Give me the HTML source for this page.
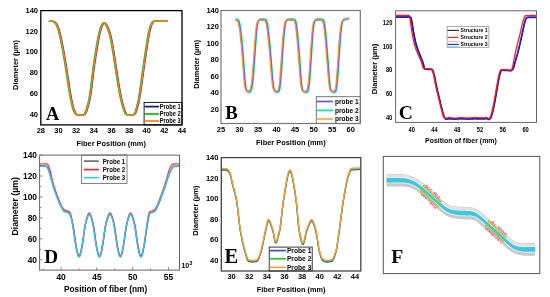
<!DOCTYPE html>
<html><head><meta charset="utf-8"><style>
html,body{margin:0;padding:0;background:#fff;}
svg{display:block;}
</style></head><body>
<svg width="550" height="297" viewBox="0 0 550 297">
<rect width="550" height="297" fill="#fff"/>
<path d="M50.30,21.20 L50.80,21.21 L51.30,21.23 L51.80,21.26 L52.30,21.30 L52.80,21.36 L53.30,21.42 L53.80,21.50 L54.30,21.62 L54.80,21.83 L55.30,22.17 L55.80,22.65 L56.30,23.23 L56.80,23.91 L57.30,24.74 L57.80,25.75 L58.30,26.98 L58.80,28.46 L59.30,30.16 L59.80,31.99 L60.30,33.92 L60.80,35.99 L61.30,38.22 L61.80,40.61 L62.30,43.12 L62.80,45.73 L63.30,48.40 L63.80,51.12 L64.30,53.90 L64.80,56.75 L65.30,59.67 L65.80,62.65 L66.30,65.69 L66.80,68.79 L67.30,71.99 L67.80,75.31 L68.30,78.71 L68.80,82.13 L69.30,85.47 L69.80,88.68 L70.30,91.72 L70.80,94.61 L71.30,97.35 L71.80,99.93 L72.30,102.36 L72.80,104.59 L73.30,106.56 L73.80,108.29 L74.30,109.80 L74.80,111.11 L75.30,112.27 L75.80,113.28 L76.30,114.09 L76.80,114.59 L77.30,114.80 L77.80,114.88 L78.30,114.92 L78.80,114.95 L79.30,114.97 L79.80,114.99 L80.30,115.00 L80.80,115.00 L81.30,114.99 L81.80,114.98 L82.30,114.96 L82.80,114.93 L83.30,114.90 L83.80,114.85 L84.30,114.73 L84.80,114.45 L85.30,113.92 L85.80,113.15 L86.30,112.18 L86.80,110.96 L87.30,109.45 L87.80,107.77 L88.30,106.03 L88.80,104.28 L89.30,102.39 L89.80,100.23 L90.30,97.66 L90.80,94.65 L91.30,91.27 L91.80,87.55 L92.30,83.50 L92.80,79.23 L93.30,74.97 L93.80,70.93 L94.30,67.17 L94.80,63.62 L95.30,60.21 L95.80,56.93 L96.30,53.74 L96.80,50.64 L97.30,47.61 L97.80,44.64 L98.30,41.76 L98.80,39.02 L99.30,36.45 L99.80,34.07 L100.30,31.90 L100.80,29.98 L101.30,28.32 L101.80,26.92 L102.30,25.79 L102.80,24.84 L103.30,24.03 L103.80,23.38 L104.30,22.98 L104.80,22.87 L105.30,23.06 L105.80,23.52 L106.30,24.16 L106.80,24.94 L107.30,25.80 L107.80,26.80 L108.30,27.95 L108.80,29.24 L109.30,30.60 L109.80,32.04 L110.30,33.62 L110.80,35.45 L111.30,37.57 L111.80,39.97 L112.30,42.61 L112.80,45.40 L113.30,48.28 L113.80,51.24 L114.30,54.31 L114.80,57.50 L115.30,60.78 L115.80,64.10 L116.30,67.39 L116.80,70.63 L117.30,73.87 L117.80,77.10 L118.30,80.30 L118.80,83.44 L119.30,86.48 L119.80,89.37 L120.30,92.12 L120.80,94.73 L121.30,97.19 L121.80,99.47 L122.30,101.57 L122.80,103.51 L123.30,105.31 L123.80,106.98 L124.30,108.55 L124.80,110.01 L125.30,111.33 L125.80,112.51 L126.30,113.53 L126.80,114.26 L127.30,114.63 L127.80,114.76 L128.30,114.81 L128.80,114.85 L129.30,114.87 L129.80,114.89 L130.30,114.90 L130.80,114.90 L131.30,114.89 L131.80,114.88 L132.30,114.86 L132.80,114.83 L133.30,114.80 L133.80,114.74 L134.30,114.61 L134.80,114.26 L135.30,113.59 L135.80,112.66 L136.30,111.50 L136.80,110.09 L137.30,108.45 L137.80,106.66 L138.30,104.75 L138.80,102.66 L139.30,100.31 L139.80,97.61 L140.30,94.57 L140.80,91.30 L141.30,87.92 L141.80,84.42 L142.30,80.84 L142.80,77.22 L143.30,73.60 L143.80,70.02 L144.30,66.49 L144.80,62.98 L145.30,59.49 L145.80,56.06 L146.30,52.68 L146.80,49.35 L147.30,46.07 L147.80,42.84 L148.30,39.72 L148.80,36.80 L149.30,34.13 L149.80,31.74 L150.30,29.61 L150.80,27.72 L151.30,26.10 L151.80,24.77 L152.30,23.65 L152.80,22.72 L153.30,22.05 L153.80,21.65 L154.30,21.42 L154.80,21.27 L155.30,21.17 L155.80,21.09 L156.30,21.03 L156.80,20.99 L157.30,20.96 L157.80,20.94 L158.30,20.91 L158.80,20.89 L159.30,20.87 L159.80,20.85 L160.30,20.83 L160.80,20.81 L161.30,20.79 L161.80,20.78 L162.30,20.77 L162.80,20.75 L163.30,20.74 L163.80,20.73 L164.30,20.73 L164.80,20.72 L165.30,20.71 L165.80,20.71 L166.30,20.70 L166.80,20.70 L167.30,20.70 L167.50,20.70" fill="none" stroke="#2a2a9a" stroke-width="1.4" stroke-linejoin="round" stroke-linecap="round" />
<path d="M49.10,21.20 L49.60,21.21 L50.10,21.23 L50.60,21.26 L51.10,21.30 L51.60,21.36 L52.10,21.42 L52.60,21.50 L53.10,21.62 L53.60,21.83 L54.10,22.17 L54.60,22.65 L55.10,23.23 L55.60,23.91 L56.10,24.74 L56.60,25.75 L57.10,26.98 L57.60,28.46 L58.10,30.16 L58.60,31.99 L59.10,33.92 L59.60,35.99 L60.10,38.22 L60.60,40.61 L61.10,43.12 L61.60,45.73 L62.10,48.40 L62.60,51.12 L63.10,53.90 L63.60,56.75 L64.10,59.67 L64.60,62.65 L65.10,65.69 L65.60,68.79 L66.10,71.99 L66.60,75.31 L67.10,78.71 L67.60,82.13 L68.10,85.47 L68.60,88.68 L69.10,91.72 L69.60,94.61 L70.10,97.35 L70.60,99.93 L71.10,102.36 L71.60,104.59 L72.10,106.56 L72.60,108.29 L73.10,109.80 L73.60,111.11 L74.10,112.27 L74.60,113.28 L75.10,114.09 L75.60,114.59 L76.10,114.80 L76.60,114.88 L77.10,114.92 L77.60,114.95 L78.10,114.97 L78.60,114.99 L79.10,115.00 L79.60,115.00 L80.10,114.99 L80.60,114.98 L81.10,114.96 L81.60,114.93 L82.10,114.90 L82.60,114.85 L83.10,114.73 L83.60,114.45 L84.10,113.92 L84.60,113.15 L85.10,112.18 L85.60,110.96 L86.10,109.45 L86.60,107.77 L87.10,106.03 L87.60,104.28 L88.10,102.39 L88.60,100.23 L89.10,97.66 L89.60,94.65 L90.10,91.27 L90.60,87.55 L91.10,83.50 L91.60,79.23 L92.10,74.97 L92.60,70.93 L93.10,67.17 L93.60,63.62 L94.10,60.21 L94.60,56.93 L95.10,53.74 L95.60,50.64 L96.10,47.61 L96.60,44.64 L97.10,41.76 L97.60,39.02 L98.10,36.45 L98.60,34.07 L99.10,31.90 L99.60,29.98 L100.10,28.32 L100.60,26.92 L101.10,25.79 L101.60,24.84 L102.10,24.03 L102.60,23.38 L103.10,22.98 L103.60,22.87 L104.10,23.06 L104.60,23.52 L105.10,24.16 L105.60,24.94 L106.10,25.80 L106.60,26.80 L107.10,27.95 L107.60,29.24 L108.10,30.60 L108.60,32.04 L109.10,33.62 L109.60,35.45 L110.10,37.57 L110.60,39.97 L111.10,42.61 L111.60,45.40 L112.10,48.28 L112.60,51.24 L113.10,54.31 L113.60,57.50 L114.10,60.78 L114.60,64.10 L115.10,67.39 L115.60,70.63 L116.10,73.87 L116.60,77.10 L117.10,80.30 L117.60,83.44 L118.10,86.48 L118.60,89.37 L119.10,92.12 L119.60,94.73 L120.10,97.19 L120.60,99.47 L121.10,101.57 L121.60,103.51 L122.10,105.31 L122.60,106.98 L123.10,108.55 L123.60,110.01 L124.10,111.33 L124.60,112.51 L125.10,113.53 L125.60,114.26 L126.10,114.63 L126.60,114.76 L127.10,114.81 L127.60,114.85 L128.10,114.87 L128.60,114.89 L129.10,114.90 L129.60,114.90 L130.10,114.89 L130.60,114.88 L131.10,114.86 L131.60,114.83 L132.10,114.80 L132.60,114.74 L133.10,114.61 L133.60,114.26 L134.10,113.59 L134.60,112.66 L135.10,111.50 L135.60,110.09 L136.10,108.45 L136.60,106.66 L137.10,104.75 L137.60,102.66 L138.10,100.31 L138.60,97.61 L139.10,94.57 L139.60,91.30 L140.10,87.92 L140.60,84.42 L141.10,80.84 L141.60,77.22 L142.10,73.60 L142.60,70.02 L143.10,66.49 L143.60,62.98 L144.10,59.49 L144.60,56.06 L145.10,52.68 L145.60,49.35 L146.10,46.07 L146.60,42.84 L147.10,39.72 L147.60,36.80 L148.10,34.13 L148.60,31.74 L149.10,29.61 L149.60,27.72 L150.10,26.10 L150.60,24.77 L151.10,23.65 L151.60,22.72 L152.10,22.05 L152.60,21.65 L153.10,21.42 L153.60,21.27 L154.10,21.17 L154.60,21.09 L155.10,21.03 L155.60,20.99 L156.10,20.96 L156.60,20.94 L157.10,20.91 L157.60,20.89 L158.10,20.87 L158.60,20.85 L159.10,20.83 L159.60,20.81 L160.10,20.79 L160.60,20.78 L161.10,20.77 L161.60,20.75 L162.10,20.74 L162.60,20.73 L163.10,20.73 L163.60,20.72 L164.10,20.71 L164.60,20.71 L165.10,20.70 L165.60,20.70 L166.10,20.70 L166.30,20.70" fill="none" stroke="#22b022" stroke-width="1.4" stroke-linejoin="round" stroke-linecap="round" />
<path d="M49.80,21.20 L50.30,21.21 L50.80,21.23 L51.30,21.26 L51.80,21.30 L52.30,21.36 L52.80,21.42 L53.30,21.50 L53.80,21.62 L54.30,21.83 L54.80,22.17 L55.30,22.65 L55.80,23.23 L56.30,23.91 L56.80,24.74 L57.30,25.75 L57.80,26.98 L58.30,28.46 L58.80,30.16 L59.30,31.99 L59.80,33.92 L60.30,35.99 L60.80,38.22 L61.30,40.61 L61.80,43.12 L62.30,45.73 L62.80,48.40 L63.30,51.12 L63.80,53.90 L64.30,56.75 L64.80,59.67 L65.30,62.65 L65.80,65.69 L66.30,68.79 L66.80,71.99 L67.30,75.31 L67.80,78.71 L68.30,82.13 L68.80,85.47 L69.30,88.68 L69.80,91.72 L70.30,94.61 L70.80,97.35 L71.30,99.93 L71.80,102.36 L72.30,104.59 L72.80,106.56 L73.30,108.29 L73.80,109.80 L74.30,111.11 L74.80,112.27 L75.30,113.28 L75.80,114.09 L76.30,114.59 L76.80,114.80 L77.30,114.88 L77.80,114.92 L78.30,114.95 L78.80,114.97 L79.30,114.99 L79.80,115.00 L80.30,115.00 L80.80,114.99 L81.30,114.98 L81.80,114.96 L82.30,114.93 L82.80,114.90 L83.30,114.85 L83.80,114.73 L84.30,114.45 L84.80,113.92 L85.30,113.15 L85.80,112.18 L86.30,110.96 L86.80,109.45 L87.30,107.77 L87.80,106.03 L88.30,104.28 L88.80,102.39 L89.30,100.23 L89.80,97.66 L90.30,94.65 L90.80,91.27 L91.30,87.55 L91.80,83.50 L92.30,79.23 L92.80,74.97 L93.30,70.93 L93.80,67.17 L94.30,63.62 L94.80,60.21 L95.30,56.93 L95.80,53.74 L96.30,50.64 L96.80,47.61 L97.30,44.64 L97.80,41.76 L98.30,39.02 L98.80,36.45 L99.30,34.07 L99.80,31.90 L100.30,29.98 L100.80,28.32 L101.30,26.92 L101.80,25.79 L102.30,24.84 L102.80,24.03 L103.30,23.38 L103.80,22.98 L104.30,22.87 L104.80,23.06 L105.30,23.52 L105.80,24.16 L106.30,24.94 L106.80,25.80 L107.30,26.80 L107.80,27.95 L108.30,29.24 L108.80,30.60 L109.30,32.04 L109.80,33.62 L110.30,35.45 L110.80,37.57 L111.30,39.97 L111.80,42.61 L112.30,45.40 L112.80,48.28 L113.30,51.24 L113.80,54.31 L114.30,57.50 L114.80,60.78 L115.30,64.10 L115.80,67.39 L116.30,70.63 L116.80,73.87 L117.30,77.10 L117.80,80.30 L118.30,83.44 L118.80,86.48 L119.30,89.37 L119.80,92.12 L120.30,94.73 L120.80,97.19 L121.30,99.47 L121.80,101.57 L122.30,103.51 L122.80,105.31 L123.30,106.98 L123.80,108.55 L124.30,110.01 L124.80,111.33 L125.30,112.51 L125.80,113.53 L126.30,114.26 L126.80,114.63 L127.30,114.76 L127.80,114.81 L128.30,114.85 L128.80,114.87 L129.30,114.89 L129.80,114.90 L130.30,114.90 L130.80,114.89 L131.30,114.88 L131.80,114.86 L132.30,114.83 L132.80,114.80 L133.30,114.74 L133.80,114.61 L134.30,114.26 L134.80,113.59 L135.30,112.66 L135.80,111.50 L136.30,110.09 L136.80,108.45 L137.30,106.66 L137.80,104.75 L138.30,102.66 L138.80,100.31 L139.30,97.61 L139.80,94.57 L140.30,91.30 L140.80,87.92 L141.30,84.42 L141.80,80.84 L142.30,77.22 L142.80,73.60 L143.30,70.02 L143.80,66.49 L144.30,62.98 L144.80,59.49 L145.30,56.06 L145.80,52.68 L146.30,49.35 L146.80,46.07 L147.30,42.84 L147.80,39.72 L148.30,36.80 L148.80,34.13 L149.30,31.74 L149.80,29.61 L150.30,27.72 L150.80,26.10 L151.30,24.77 L151.80,23.65 L152.30,22.72 L152.80,22.05 L153.30,21.65 L153.80,21.42 L154.30,21.27 L154.80,21.17 L155.30,21.09 L155.80,21.03 L156.30,20.99 L156.80,20.96 L157.30,20.94 L157.80,20.91 L158.30,20.89 L158.80,20.87 L159.30,20.85 L159.80,20.83 L160.30,20.81 L160.80,20.79 L161.30,20.78 L161.80,20.77 L162.30,20.75 L162.80,20.74 L163.30,20.73 L163.80,20.73 L164.30,20.72 L164.80,20.71 L165.30,20.71 L165.80,20.70 L166.30,20.70 L166.80,20.70 L167.00,20.70" fill="none" stroke="#ff8010" stroke-width="1.4" stroke-linejoin="round" stroke-linecap="round" />
<rect x="144.1" y="102.4" width="37.90" height="22.50" fill="#fff" stroke="#000" stroke-width="0.9"/>
<line x1="144.60" y1="106.60" x2="159.00" y2="106.60" stroke="#1c1c8c" stroke-width="1.8"/>
<text x="159.80" y="108.90" font-family="'Liberation Sans', sans-serif" font-size="6.6" font-weight="bold" text-anchor="start" fill="#000"  textLength="21.0" lengthAdjust="spacingAndGlyphs">Probe 1</text>
<line x1="144.60" y1="114.00" x2="159.00" y2="114.00" stroke="#22bb22" stroke-width="1.8"/>
<text x="159.80" y="116.30" font-family="'Liberation Sans', sans-serif" font-size="6.6" font-weight="bold" text-anchor="start" fill="#000"  textLength="21.0" lengthAdjust="spacingAndGlyphs">Probe 2</text>
<line x1="144.60" y1="121.00" x2="159.00" y2="121.00" stroke="#ff8c1a" stroke-width="1.8"/>
<text x="159.80" y="123.30" font-family="'Liberation Sans', sans-serif" font-size="6.6" font-weight="bold" text-anchor="start" fill="#000"  textLength="21.0" lengthAdjust="spacingAndGlyphs">Probe 3</text>
<rect x="40.8" y="10.6" width="141.20" height="114.30" fill="none" stroke="#000" stroke-width="1.3"/>
<text x="38.00" y="116.60" font-family="'Liberation Sans', sans-serif" font-size="7.5" font-weight="bold" text-anchor="end" fill="#000" >40</text>
<text x="38.00" y="95.83" font-family="'Liberation Sans', sans-serif" font-size="7.5" font-weight="bold" text-anchor="end" fill="#000" >60</text>
<text x="38.00" y="75.06" font-family="'Liberation Sans', sans-serif" font-size="7.5" font-weight="bold" text-anchor="end" fill="#000" >80</text>
<text x="38.00" y="54.29" font-family="'Liberation Sans', sans-serif" font-size="7.5" font-weight="bold" text-anchor="end" fill="#000" >100</text>
<text x="38.00" y="33.52" font-family="'Liberation Sans', sans-serif" font-size="7.5" font-weight="bold" text-anchor="end" fill="#000" >120</text>
<text x="38.00" y="12.75" font-family="'Liberation Sans', sans-serif" font-size="7.5" font-weight="bold" text-anchor="end" fill="#000" >140</text>
<text x="40.80" y="132.70" font-family="'Liberation Sans', sans-serif" font-size="7.5" font-weight="bold" text-anchor="middle" fill="#000" >28</text>
<text x="58.45" y="132.70" font-family="'Liberation Sans', sans-serif" font-size="7.5" font-weight="bold" text-anchor="middle" fill="#000" >30</text>
<text x="76.10" y="132.70" font-family="'Liberation Sans', sans-serif" font-size="7.5" font-weight="bold" text-anchor="middle" fill="#000" >32</text>
<text x="93.75" y="132.70" font-family="'Liberation Sans', sans-serif" font-size="7.5" font-weight="bold" text-anchor="middle" fill="#000" >34</text>
<text x="111.40" y="132.70" font-family="'Liberation Sans', sans-serif" font-size="7.5" font-weight="bold" text-anchor="middle" fill="#000" >36</text>
<text x="129.05" y="132.70" font-family="'Liberation Sans', sans-serif" font-size="7.5" font-weight="bold" text-anchor="middle" fill="#000" >38</text>
<text x="146.70" y="132.70" font-family="'Liberation Sans', sans-serif" font-size="7.5" font-weight="bold" text-anchor="middle" fill="#000" >40</text>
<text x="164.35" y="132.70" font-family="'Liberation Sans', sans-serif" font-size="7.5" font-weight="bold" text-anchor="middle" fill="#000" >42</text>
<text x="182.00" y="132.70" font-family="'Liberation Sans', sans-serif" font-size="7.5" font-weight="bold" text-anchor="middle" fill="#000" >44</text>
<text x="111.20" y="145.90" font-family="'Liberation Sans', sans-serif" font-size="7.5" font-weight="bold" text-anchor="middle" fill="#000"  textLength="69.4" lengthAdjust="spacingAndGlyphs">Fiber Position (mm)</text>
<text transform="translate(18.40,65.00) rotate(-90)" x="0" y="0" font-family="'Liberation Sans', sans-serif" font-size="7.6" font-weight="bold" text-anchor="middle" fill="#000" textLength="50" lengthAdjust="spacingAndGlyphs">Diameter (µm)</text>
<text x="46.00" y="119.50" font-family="'Liberation Serif', sans-serif" font-size="18.3" font-weight="bold" text-anchor="start" fill="#000" >A</text>
<path d="M236.40,18.78 L236.90,18.81 L237.40,18.90 L237.90,19.08 L238.40,19.47 L238.90,20.21 L239.40,21.51 L239.90,23.50 L240.40,26.27 L240.90,29.79 L241.40,33.95 L241.90,38.66 L242.40,43.88 L242.90,49.65 L243.40,56.01 L243.90,62.88 L244.40,69.97 L244.90,76.71 L245.40,82.47 L245.90,86.82 L246.40,89.66 L246.90,91.24 L247.40,92.00 L247.90,92.32 L248.40,92.45 L248.90,92.48 L249.40,92.45 L249.90,92.34 L250.40,92.08 L250.90,91.55 L251.40,90.55 L251.90,88.87 L252.40,86.32 L252.90,82.75 L253.40,78.02 L253.90,72.14 L254.40,65.35 L254.90,58.02 L255.40,50.53 L255.90,43.26 L256.40,36.57 L256.90,30.83 L257.40,26.32 L257.90,23.12 L258.40,21.06 L258.90,19.88 L259.40,19.27 L259.90,18.99 L260.40,18.87 L260.90,18.82 L261.40,18.79 L261.90,18.77 L262.40,18.76 L262.90,18.76 L263.40,18.77 L263.90,18.78 L264.40,18.81 L264.90,18.85 L265.40,18.95 L265.90,19.19 L266.40,19.72 L266.90,20.76 L267.40,22.55 L267.90,25.26 L268.40,28.87 L268.90,33.17 L269.40,37.95 L269.90,43.09 L270.40,48.58 L270.90,54.48 L271.40,60.77 L271.90,67.30 L272.40,73.69 L272.90,79.50 L273.40,84.29 L273.90,87.83 L274.40,90.12 L274.90,91.41 L275.40,92.04 L275.90,92.32 L276.40,92.44 L276.90,92.49 L277.40,92.49 L277.90,92.42 L278.40,92.27 L278.90,91.88 L279.40,91.00 L279.90,89.19 L280.40,86.03 L280.90,81.29 L281.40,75.07 L281.90,67.85 L282.40,60.23 L282.90,52.71 L283.40,45.62 L283.90,39.13 L284.40,33.37 L284.90,28.53 L285.40,24.78 L285.90,22.15 L286.40,20.50 L286.90,19.58 L287.40,19.13 L287.90,18.94 L288.40,18.86 L288.90,18.82 L289.40,18.79 L289.90,18.78 L290.40,18.77 L290.90,18.76 L291.40,18.76 L291.90,18.76 L292.40,18.77 L292.90,18.78 L293.40,18.81 L293.90,18.84 L294.40,18.93 L294.90,19.14 L295.40,19.65 L295.90,20.75 L296.40,22.73 L296.90,25.80 L297.40,29.93 L297.90,34.90 L298.40,40.47 L298.90,46.52 L299.40,53.04 L299.90,59.99 L300.40,67.17 L300.90,74.15 L301.40,80.34 L301.90,85.25 L302.40,88.65 L302.90,90.70 L303.40,91.79 L303.90,92.32 L304.40,92.58 L304.90,92.72 L305.40,92.78 L305.90,92.78 L306.40,92.72 L306.90,92.59 L307.40,92.33 L307.90,91.79 L308.40,90.70 L308.90,88.64 L309.40,85.20 L309.90,80.18 L310.40,73.74 L310.90,66.28 L311.40,58.33 L311.90,50.31 L312.40,42.64 L312.90,35.75 L313.40,30.00 L313.90,25.64 L314.40,22.63 L314.90,20.77 L315.40,19.72 L315.90,19.20 L316.40,18.96 L316.90,18.86 L317.40,18.82 L317.90,18.79 L318.40,18.77 L318.90,18.76 L319.40,18.76 L319.90,18.76 L320.40,18.77 L320.90,18.78 L321.40,18.80 L321.90,18.83 L322.40,18.90 L322.90,19.08 L323.40,19.50 L323.90,20.41 L324.40,22.06 L324.90,24.68 L325.40,28.32 L325.90,32.87 L326.40,38.15 L326.90,43.97 L327.40,50.23 L327.90,56.86 L328.40,63.75 L328.90,70.63 L329.40,77.09 L329.90,82.62 L330.40,86.83 L330.90,89.62 L331.40,91.23 L331.90,92.06 L332.40,92.46 L332.90,92.66 L333.40,92.75 L333.90,92.78 L334.40,92.73 L334.90,92.59 L335.40,92.31 L335.90,91.68 L336.40,90.34 L336.90,87.79 L337.40,83.63 L337.90,77.83 L338.40,70.81 L338.90,63.17 L339.40,55.45 L339.90,48.00 L340.40,41.05 L340.90,34.83 L341.40,29.59 L341.90,25.52 L342.40,22.64 L342.90,20.81 L343.40,19.74 L343.90,19.15 L344.40,18.83 L344.90,18.64 L345.40,18.51 L345.90,18.41 L346.40,18.33 L346.90,18.26 L347.40,18.21 L347.90,18.17 L348.40,18.15 L348.90,18.14" fill="none" stroke="#10e890" stroke-width="1.3" stroke-linejoin="round" stroke-linecap="round" />
<path d="M235.80,20.02 L236.30,20.06 L236.80,20.14 L237.30,20.32 L237.80,20.69 L238.30,21.41 L238.80,22.66 L239.30,24.59 L239.80,27.27 L240.30,30.67 L240.80,34.68 L241.30,39.23 L241.80,44.28 L242.30,49.86 L242.80,55.99 L243.30,62.64 L243.80,69.48 L244.30,75.99 L244.80,81.57 L245.30,85.77 L245.80,88.51 L246.30,90.04 L246.80,90.77 L247.30,91.08 L247.80,91.20 L248.30,91.24 L248.80,91.20 L249.30,91.10 L249.80,90.85 L250.30,90.34 L250.80,89.37 L251.30,87.74 L251.80,85.28 L252.30,81.83 L252.80,77.26 L253.30,71.59 L253.80,65.02 L254.30,57.94 L254.80,50.71 L255.30,43.68 L255.80,37.21 L256.30,31.67 L256.80,27.31 L257.30,24.22 L257.80,22.23 L258.30,21.09 L258.80,20.50 L259.30,20.23 L259.80,20.12 L260.30,20.07 L260.80,20.04 L261.30,20.02 L261.80,20.01 L262.30,20.01 L262.80,20.01 L263.30,20.03 L263.80,20.05 L264.30,20.10 L264.80,20.19 L265.30,20.42 L265.80,20.93 L266.30,21.94 L266.80,23.67 L267.30,26.29 L267.80,29.77 L268.30,33.93 L268.80,38.55 L269.30,43.51 L269.80,48.82 L270.30,54.52 L270.80,60.60 L271.30,66.90 L271.80,73.08 L272.30,78.69 L272.80,83.33 L273.30,86.74 L273.80,88.95 L274.30,90.20 L274.80,90.81 L275.30,91.08 L275.80,91.20 L276.30,91.24 L276.80,91.24 L277.30,91.18 L277.80,91.03 L278.30,90.66 L278.80,89.80 L279.30,88.06 L279.80,85.01 L280.30,80.42 L280.80,74.41 L281.30,67.44 L281.80,60.07 L282.30,52.81 L282.80,45.96 L283.30,39.69 L283.80,34.12 L284.30,29.45 L284.80,25.82 L285.30,23.28 L285.80,21.69 L286.30,20.80 L286.80,20.37 L287.30,20.18 L287.80,20.10 L288.30,20.06 L288.80,20.04 L289.30,20.02 L289.80,20.01 L290.30,20.01 L290.80,20.01 L291.30,20.01 L291.80,20.02 L292.30,20.03 L292.80,20.05 L293.30,20.09 L293.80,20.17 L294.30,20.37 L294.80,20.87 L295.30,21.93 L295.80,23.84 L296.30,26.81 L296.80,30.80 L297.30,35.60 L297.80,40.98 L298.30,46.83 L298.80,53.13 L299.30,59.84 L299.80,66.78 L300.30,73.52 L300.80,79.51 L301.30,84.25 L301.80,87.53 L302.30,89.51 L302.80,90.56 L303.30,91.08 L303.80,91.33 L304.30,91.46 L304.80,91.52 L305.30,91.52 L305.80,91.47 L306.30,91.34 L306.80,91.09 L307.30,90.57 L307.80,89.52 L308.30,87.52 L308.80,84.20 L309.30,79.35 L309.80,73.12 L310.30,65.92 L310.80,58.24 L311.30,50.49 L311.80,43.08 L312.30,36.42 L312.80,30.87 L313.30,26.65 L313.80,23.75 L314.30,21.95 L314.80,20.93 L315.30,20.43 L315.80,20.20 L316.30,20.11 L316.80,20.06 L317.30,20.04 L317.80,20.02 L318.30,20.01 L318.80,20.01 L319.30,20.01 L319.80,20.01 L320.30,20.03 L320.80,20.04 L321.30,20.08 L321.80,20.15 L322.30,20.31 L322.80,20.73 L323.30,21.60 L323.80,23.20 L324.30,25.73 L324.80,29.24 L325.30,33.65 L325.80,38.74 L326.30,44.37 L326.80,50.42 L327.30,56.82 L327.80,63.47 L328.30,70.12 L328.80,76.36 L329.30,81.71 L329.80,85.78 L330.30,88.48 L330.80,90.03 L331.30,90.83 L331.80,91.22 L332.30,91.41 L332.80,91.50 L333.30,91.52 L333.80,91.47 L334.30,91.34 L334.80,91.07 L335.30,90.46 L335.80,89.17 L336.30,86.70 L336.80,82.68 L337.30,77.08 L337.80,70.30 L338.30,62.92 L338.80,55.46 L339.30,48.26 L339.80,41.54 L340.30,35.54 L340.80,30.47 L341.30,26.53 L341.80,23.76 L342.30,21.99 L342.80,20.95 L343.30,20.38 L343.80,20.07 L344.30,19.89 L344.80,19.77 L345.30,19.67 L345.80,19.59 L346.30,19.52 L346.80,19.48 L347.30,19.44 L347.80,19.42 L348.30,19.41" fill="none" stroke="#7040ff" stroke-width="1.3" stroke-linejoin="round" stroke-linecap="round" />
<path d="M235.20,20.02 L235.70,20.06 L236.20,20.14 L236.70,20.32 L237.20,20.69 L237.70,21.41 L238.20,22.66 L238.70,24.59 L239.20,27.27 L239.70,30.67 L240.20,34.68 L240.70,39.23 L241.20,44.28 L241.70,49.86 L242.20,55.99 L242.70,62.64 L243.20,69.48 L243.70,75.99 L244.20,81.57 L244.70,85.77 L245.20,88.51 L245.70,90.04 L246.20,90.77 L246.70,91.08 L247.20,91.20 L247.70,91.24 L248.20,91.20 L248.70,91.10 L249.20,90.85 L249.70,90.34 L250.20,89.37 L250.70,87.74 L251.20,85.28 L251.70,81.83 L252.20,77.26 L252.70,71.59 L253.20,65.02 L253.70,57.94 L254.20,50.71 L254.70,43.68 L255.20,37.21 L255.70,31.67 L256.20,27.31 L256.70,24.22 L257.20,22.23 L257.70,21.09 L258.20,20.50 L258.70,20.23 L259.20,20.12 L259.70,20.07 L260.20,20.04 L260.70,20.02 L261.20,20.01 L261.70,20.01 L262.20,20.01 L262.70,20.03 L263.20,20.05 L263.70,20.10 L264.20,20.19 L264.70,20.42 L265.20,20.93 L265.70,21.94 L266.20,23.67 L266.70,26.29 L267.20,29.77 L267.70,33.93 L268.20,38.55 L268.70,43.51 L269.20,48.82 L269.70,54.52 L270.20,60.60 L270.70,66.90 L271.20,73.08 L271.70,78.69 L272.20,83.33 L272.70,86.74 L273.20,88.95 L273.70,90.20 L274.20,90.81 L274.70,91.08 L275.20,91.20 L275.70,91.24 L276.20,91.24 L276.70,91.18 L277.20,91.03 L277.70,90.66 L278.20,89.80 L278.70,88.06 L279.20,85.01 L279.70,80.42 L280.20,74.41 L280.70,67.44 L281.20,60.07 L281.70,52.81 L282.20,45.96 L282.70,39.69 L283.20,34.12 L283.70,29.45 L284.20,25.82 L284.70,23.28 L285.20,21.69 L285.70,20.80 L286.20,20.37 L286.70,20.18 L287.20,20.10 L287.70,20.06 L288.20,20.04 L288.70,20.02 L289.20,20.01 L289.70,20.01 L290.20,20.01 L290.70,20.01 L291.20,20.02 L291.70,20.03 L292.20,20.05 L292.70,20.09 L293.20,20.17 L293.70,20.37 L294.20,20.87 L294.70,21.93 L295.20,23.84 L295.70,26.81 L296.20,30.80 L296.70,35.60 L297.20,40.98 L297.70,46.83 L298.20,53.13 L298.70,59.84 L299.20,66.78 L299.70,73.52 L300.20,79.51 L300.70,84.25 L301.20,87.53 L301.70,89.51 L302.20,90.56 L302.70,91.08 L303.20,91.33 L303.70,91.46 L304.20,91.52 L304.70,91.52 L305.20,91.47 L305.70,91.34 L306.20,91.09 L306.70,90.57 L307.20,89.52 L307.70,87.52 L308.20,84.20 L308.70,79.35 L309.20,73.12 L309.70,65.92 L310.20,58.24 L310.70,50.49 L311.20,43.08 L311.70,36.42 L312.20,30.87 L312.70,26.65 L313.20,23.75 L313.70,21.95 L314.20,20.93 L314.70,20.43 L315.20,20.20 L315.70,20.11 L316.20,20.06 L316.70,20.04 L317.20,20.02 L317.70,20.01 L318.20,20.01 L318.70,20.01 L319.20,20.01 L319.70,20.03 L320.20,20.04 L320.70,20.08 L321.20,20.15 L321.70,20.31 L322.20,20.73 L322.70,21.60 L323.20,23.20 L323.70,25.73 L324.20,29.24 L324.70,33.65 L325.20,38.74 L325.70,44.37 L326.20,50.42 L326.70,56.82 L327.20,63.47 L327.70,70.12 L328.20,76.36 L328.70,81.71 L329.20,85.78 L329.70,88.48 L330.20,90.03 L330.70,90.83 L331.20,91.22 L331.70,91.41 L332.20,91.50 L332.70,91.52 L333.20,91.47 L333.70,91.34 L334.20,91.07 L334.70,90.46 L335.20,89.17 L335.70,86.70 L336.20,82.68 L336.70,77.08 L337.20,70.30 L337.70,62.92 L338.20,55.46 L338.70,48.26 L339.20,41.54 L339.70,35.54 L340.20,30.47 L340.70,26.53 L341.20,23.76 L341.70,21.99 L342.20,20.95 L342.70,20.38 L343.20,20.07 L343.70,19.89 L344.20,19.77 L344.70,19.67 L345.20,19.59 L345.70,19.52 L346.20,19.48 L346.70,19.44 L347.20,19.42 L347.70,19.41" fill="none" stroke="#ff8c3a" stroke-width="1.3" stroke-linejoin="round" stroke-linecap="round" />
<rect x="316.3" y="96.7" width="44.00" height="26.80" fill="#fff" stroke="#666" stroke-width="0.9"/>
<line x1="316.80" y1="101.50" x2="333.00" y2="101.50" stroke="#6a50ff" stroke-width="1.7"/>
<text x="335.00" y="103.90" font-family="'Liberation Sans', sans-serif" font-size="6.9" font-weight="bold" text-anchor="start" fill="#000"  textLength="23.7" lengthAdjust="spacingAndGlyphs">probe 1</text>
<line x1="316.80" y1="110.40" x2="333.00" y2="110.40" stroke="#10e890" stroke-width="1.7"/>
<text x="335.00" y="112.80" font-family="'Liberation Sans', sans-serif" font-size="6.9" font-weight="bold" text-anchor="start" fill="#000"  textLength="23.7" lengthAdjust="spacingAndGlyphs">probe 2</text>
<line x1="316.80" y1="119.00" x2="333.00" y2="119.00" stroke="#ffa050" stroke-width="1.7"/>
<text x="335.00" y="121.40" font-family="'Liberation Sans', sans-serif" font-size="6.9" font-weight="bold" text-anchor="start" fill="#000"  textLength="23.7" lengthAdjust="spacingAndGlyphs">probe 3</text>
<rect x="221.0" y="10.5" width="139.30" height="113.00" fill="none" stroke="#777" stroke-width="1.2"/>
<text x="218.90" y="111.80" font-family="'Liberation Sans', sans-serif" font-size="7.5" font-weight="bold" text-anchor="end" fill="#000" >20</text>
<text x="218.90" y="95.30" font-family="'Liberation Sans', sans-serif" font-size="7.5" font-weight="bold" text-anchor="end" fill="#000" >40</text>
<text x="218.90" y="78.80" font-family="'Liberation Sans', sans-serif" font-size="7.5" font-weight="bold" text-anchor="end" fill="#000" >60</text>
<text x="218.90" y="62.30" font-family="'Liberation Sans', sans-serif" font-size="7.5" font-weight="bold" text-anchor="end" fill="#000" >80</text>
<text x="218.90" y="45.80" font-family="'Liberation Sans', sans-serif" font-size="7.5" font-weight="bold" text-anchor="end" fill="#000" >100</text>
<text x="218.90" y="29.30" font-family="'Liberation Sans', sans-serif" font-size="7.5" font-weight="bold" text-anchor="end" fill="#000" >120</text>
<text x="218.90" y="12.80" font-family="'Liberation Sans', sans-serif" font-size="7.5" font-weight="bold" text-anchor="end" fill="#000" >140</text>
<text x="221.00" y="131.60" font-family="'Liberation Sans', sans-serif" font-size="7.5" font-weight="bold" text-anchor="middle" fill="#000" >25</text>
<text x="239.53" y="131.60" font-family="'Liberation Sans', sans-serif" font-size="7.5" font-weight="bold" text-anchor="middle" fill="#000" >30</text>
<text x="258.06" y="131.60" font-family="'Liberation Sans', sans-serif" font-size="7.5" font-weight="bold" text-anchor="middle" fill="#000" >35</text>
<text x="276.59" y="131.60" font-family="'Liberation Sans', sans-serif" font-size="7.5" font-weight="bold" text-anchor="middle" fill="#000" >40</text>
<text x="295.12" y="131.60" font-family="'Liberation Sans', sans-serif" font-size="7.5" font-weight="bold" text-anchor="middle" fill="#000" >45</text>
<text x="313.65" y="131.60" font-family="'Liberation Sans', sans-serif" font-size="7.5" font-weight="bold" text-anchor="middle" fill="#000" >50</text>
<text x="332.18" y="131.60" font-family="'Liberation Sans', sans-serif" font-size="7.5" font-weight="bold" text-anchor="middle" fill="#000" >55</text>
<text x="350.71" y="131.60" font-family="'Liberation Sans', sans-serif" font-size="7.5" font-weight="bold" text-anchor="middle" fill="#000" >60</text>
<text x="290.85" y="144.80" font-family="'Liberation Sans', sans-serif" font-size="7.5" font-weight="bold" text-anchor="middle" fill="#000"  textLength="69.5" lengthAdjust="spacingAndGlyphs">Fiber Position (mm)</text>
<text transform="translate(199.00,64.20) rotate(-90)" x="0" y="0" font-family="'Liberation Sans', sans-serif" font-size="7.3" font-weight="bold" text-anchor="middle" fill="#000" textLength="49" lengthAdjust="spacingAndGlyphs">Diameter (µm)</text>
<text x="225.20" y="118.90" font-family="'Liberation Serif', sans-serif" font-size="18.8" font-weight="bold" text-anchor="start" fill="#000" >B</text>
<path d="M396.40,17.00 L396.90,17.00 L397.40,17.00 L397.90,17.00 L398.40,17.00 L398.90,17.00 L399.40,17.00 L399.90,17.00 L400.40,17.00 L400.90,17.00 L401.40,17.00 L401.90,17.00 L402.40,17.00 L402.90,17.00 L403.40,17.00 L403.90,17.00 L404.40,17.00 L404.90,17.00 L405.40,17.00 L405.90,17.00 L406.40,17.00 L406.90,17.00 L407.40,17.00 L407.90,17.00 L408.40,17.00 L408.90,17.00 L409.40,17.00 L409.90,17.00 L410.40,17.00 L410.90,17.27 L411.40,18.75 L411.90,21.20 L412.40,24.23 L412.90,27.46 L413.40,30.51 L413.90,33.09 L414.40,35.67 L414.90,38.26 L415.40,40.70 L415.90,42.80 L416.40,44.60 L416.90,46.25 L417.40,47.77 L417.90,49.21 L418.40,50.58 L418.90,51.92 L419.40,53.26 L419.90,54.60 L420.40,55.86 L420.90,57.07 L421.40,58.25 L421.90,59.45 L422.40,60.70 L422.90,62.03 L423.40,63.62 L423.90,65.71 L424.40,67.66 L424.90,68.75 L425.40,68.86 L425.90,68.92 L426.40,68.97 L426.90,69.00 L427.40,69.02 L427.90,69.04 L428.40,69.05 L428.90,69.06 L429.40,69.08 L429.90,69.09 L430.40,69.12 L430.90,69.16 L431.40,69.20 L431.90,69.27 L432.40,69.49 L432.90,70.36 L433.40,71.72 L433.90,73.38 L434.40,75.10 L434.90,77.18 L435.40,79.78 L435.90,82.54 L436.40,85.10 L436.90,87.39 L437.40,89.62 L437.90,91.79 L438.40,93.92 L438.90,96.02 L439.40,98.10 L439.90,100.18 L440.40,102.25 L440.90,104.29 L441.40,106.29 L441.90,108.23 L442.40,110.10 L442.90,112.05 L443.40,114.03 L443.90,115.75 L444.40,116.90 L444.90,117.65 L445.40,118.29 L445.90,118.73 L446.40,118.90 L446.90,118.87 L447.40,118.80 L447.90,118.70 L448.40,118.60 L448.90,118.53 L449.40,118.50 L449.90,118.51 L450.40,118.52 L450.90,118.55 L451.40,118.58 L451.90,118.61 L452.40,118.65 L452.90,118.69 L453.40,118.72 L453.90,118.75 L454.40,118.78 L454.90,118.79 L455.40,118.80 L455.90,118.79 L456.40,118.78 L456.90,118.75 L457.40,118.72 L457.90,118.69 L458.40,118.65 L458.90,118.61 L459.40,118.58 L459.90,118.55 L460.40,118.52 L460.90,118.51 L461.40,118.50 L461.90,118.50 L462.40,118.52 L462.90,118.54 L463.40,118.56 L463.90,118.59 L464.40,118.62 L464.90,118.65 L465.40,118.68 L465.90,118.71 L466.40,118.74 L466.90,118.76 L467.40,118.78 L467.90,118.80 L468.40,118.80 L468.90,118.80 L469.40,118.78 L469.90,118.76 L470.40,118.74 L470.90,118.71 L471.40,118.68 L471.90,118.65 L472.40,118.62 L472.90,118.59 L473.40,118.56 L473.90,118.54 L474.40,118.52 L474.90,118.50 L475.40,118.50 L475.90,118.50 L476.40,118.51 L476.90,118.52 L477.40,118.54 L477.90,118.56 L478.40,118.58 L478.90,118.60 L479.40,118.62 L479.90,118.64 L480.40,118.66 L480.90,118.68 L481.40,118.69 L481.90,118.70 L482.40,118.70 L482.90,118.69 L483.40,118.66 L483.90,118.62 L484.40,118.57 L484.90,118.53 L485.40,118.48 L485.90,118.44 L486.40,118.41 L486.90,118.40 L487.40,118.50 L487.90,118.72 L488.40,118.98 L488.90,119.16 L489.40,119.17 L489.90,118.90 L490.40,118.43 L490.90,117.81 L491.40,116.66 L491.90,115.09 L492.40,113.31 L492.90,111.48 L493.40,109.38 L493.90,107.06 L494.40,104.60 L494.90,102.05 L495.40,99.26 L495.90,96.31 L496.40,93.32 L496.90,90.38 L497.40,87.60 L497.90,84.83 L498.40,81.98 L498.90,79.20 L499.40,76.68 L499.90,74.58 L500.40,73.01 L500.90,71.57 L501.40,70.45 L501.90,70.00 L502.40,70.00 L502.90,70.01 L503.40,70.02 L503.90,70.04 L504.40,70.05 L504.90,70.07 L505.40,70.10 L505.90,70.12 L506.40,70.15 L506.90,70.17 L507.40,70.20 L507.90,70.24 L508.40,70.29 L508.90,70.34 L509.40,70.40 L509.90,70.45 L510.40,70.49 L510.90,70.50 L511.40,70.40 L511.90,70.12 L512.40,69.71 L512.90,69.21 L513.40,68.43 L513.90,67.05 L514.40,65.30 L514.90,63.40 L515.40,61.60 L515.90,59.90 L516.40,58.17 L516.90,56.38 L517.40,54.56 L517.90,52.69 L518.40,50.77 L518.90,48.81 L519.40,46.76 L519.90,44.64 L520.40,42.47 L520.90,40.27 L521.40,38.07 L521.90,35.89 L522.40,33.72 L522.90,31.38 L523.40,28.92 L523.90,26.48 L524.40,24.20 L524.90,22.19 L525.40,20.59 L525.90,19.42 L526.40,18.34 L526.90,17.53 L527.40,17.20 L527.90,17.19 L528.40,17.17 L528.90,17.16 L529.40,17.15 L529.90,17.14 L530.40,17.14 L530.90,17.13 L531.40,17.12 L531.90,17.12 L532.40,17.11 L532.90,17.11 L533.40,17.11 L533.90,17.10 L534.40,17.10 L534.90,17.10 L535.40,17.10 L535.90,17.10 L536.40,17.10" fill="none" stroke="#111" stroke-width="1.3" stroke-linejoin="round" stroke-linecap="round" />
<path d="M396.00,17.40 L396.50,17.40 L397.00,17.40 L397.50,17.40 L398.00,17.40 L398.50,17.40 L399.00,17.40 L399.50,17.40 L400.00,17.40 L400.50,17.40 L401.00,17.40 L401.50,17.40 L402.00,17.40 L402.50,17.40 L403.00,17.40 L403.50,17.40 L404.00,17.40 L404.50,17.40 L405.00,17.40 L405.50,17.40 L406.00,17.40 L406.50,17.40 L407.00,17.40 L407.50,17.40 L408.00,17.40 L408.50,17.40 L409.00,17.40 L409.50,17.40 L410.00,17.40 L410.50,17.67 L411.00,19.15 L411.50,21.60 L412.00,24.63 L412.50,27.86 L413.00,30.91 L413.50,33.49 L414.00,36.07 L414.50,38.66 L415.00,41.10 L415.50,43.20 L416.00,45.00 L416.50,46.65 L417.00,48.17 L417.50,49.61 L418.00,50.98 L418.50,52.32 L419.00,53.66 L419.50,55.00 L420.00,56.26 L420.50,57.47 L421.00,58.65 L421.50,59.85 L422.00,61.10 L422.50,62.43 L423.00,64.02 L423.50,66.11 L424.00,68.06 L424.50,69.15 L425.00,69.26 L425.50,69.32 L426.00,69.37 L426.50,69.40 L427.00,69.42 L427.50,69.44 L428.00,69.45 L428.50,69.46 L429.00,69.48 L429.50,69.49 L430.00,69.52 L430.50,69.56 L431.00,69.60 L431.50,69.67 L432.00,69.89 L432.50,70.76 L433.00,72.12 L433.50,73.78 L434.00,75.50 L434.50,77.58 L435.00,80.18 L435.50,82.94 L436.00,85.50 L436.50,87.79 L437.00,90.02 L437.50,92.19 L438.00,94.32 L438.50,96.42 L439.00,98.50 L439.50,100.58 L440.00,102.65 L440.50,104.69 L441.00,106.69 L441.50,108.63 L442.00,110.50 L442.50,112.45 L443.00,114.43 L443.50,116.15 L444.00,117.30 L444.50,118.05 L445.00,118.69 L445.50,119.13 L446.00,119.30 L446.50,119.27 L447.00,119.20 L447.50,119.10 L448.00,119.00 L448.50,118.93 L449.00,118.90 L449.50,118.91 L450.00,118.92 L450.50,118.95 L451.00,118.98 L451.50,119.01 L452.00,119.05 L452.50,119.09 L453.00,119.12 L453.50,119.15 L454.00,119.18 L454.50,119.19 L455.00,119.20 L455.50,119.19 L456.00,119.18 L456.50,119.15 L457.00,119.12 L457.50,119.09 L458.00,119.05 L458.50,119.01 L459.00,118.98 L459.50,118.95 L460.00,118.92 L460.50,118.91 L461.00,118.90 L461.50,118.90 L462.00,118.92 L462.50,118.94 L463.00,118.96 L463.50,118.99 L464.00,119.02 L464.50,119.05 L465.00,119.08 L465.50,119.11 L466.00,119.14 L466.50,119.16 L467.00,119.18 L467.50,119.20 L468.00,119.20 L468.50,119.20 L469.00,119.18 L469.50,119.16 L470.00,119.14 L470.50,119.11 L471.00,119.08 L471.50,119.05 L472.00,119.02 L472.50,118.99 L473.00,118.96 L473.50,118.94 L474.00,118.92 L474.50,118.90 L475.00,118.90 L475.50,118.90 L476.00,118.91 L476.50,118.92 L477.00,118.94 L477.50,118.96 L478.00,118.98 L478.50,119.00 L479.00,119.02 L479.50,119.04 L480.00,119.06 L480.50,119.08 L481.00,119.09 L481.50,119.10 L482.00,119.10 L482.50,119.09 L483.00,119.06 L483.50,119.02 L484.00,118.97 L484.50,118.93 L485.00,118.88 L485.50,118.84 L486.00,118.81 L486.50,118.80 L487.00,118.90 L487.50,119.12 L488.00,119.38 L488.50,119.56 L489.00,119.57 L489.50,119.30 L490.00,118.83 L490.50,118.21 L491.00,117.06 L491.50,115.49 L492.00,113.71 L492.50,111.88 L493.00,109.78 L493.50,107.46 L494.00,105.00 L494.50,102.45 L495.00,99.66 L495.50,96.71 L496.00,93.72 L496.50,90.78 L497.00,88.00 L497.50,85.23 L498.00,82.38 L498.50,79.60 L499.00,77.08 L499.50,74.98 L500.00,73.41 L500.50,71.97 L501.00,70.85 L501.50,70.40 L502.00,70.40 L502.50,70.41 L503.00,70.42 L503.50,70.44 L504.00,70.45 L504.50,70.47 L505.00,70.50 L505.50,70.52 L506.00,70.55 L506.50,70.57 L507.00,70.60 L507.50,70.64 L508.00,70.69 L508.50,70.74 L509.00,70.80 L509.50,70.85 L510.00,70.89 L510.50,70.90 L511.00,70.80 L511.50,70.52 L512.00,70.11 L512.50,69.61 L513.00,68.83 L513.50,67.45 L514.00,65.70 L514.50,63.80 L515.00,62.00 L515.50,60.30 L516.00,58.57 L516.50,56.78 L517.00,54.96 L517.50,53.09 L518.00,51.17 L518.50,49.21 L519.00,47.16 L519.50,45.04 L520.00,42.87 L520.50,40.67 L521.00,38.47 L521.50,36.29 L522.00,34.12 L522.50,31.78 L523.00,29.32 L523.50,26.88 L524.00,24.60 L524.50,22.59 L525.00,20.99 L525.50,19.82 L526.00,18.74 L526.50,17.93 L527.00,17.60 L527.50,17.59 L528.00,17.57 L528.50,17.56 L529.00,17.55 L529.50,17.54 L530.00,17.54 L530.50,17.53 L531.00,17.52 L531.50,17.52 L532.00,17.51 L532.50,17.51 L533.00,17.51 L533.50,17.50 L534.00,17.50 L534.50,17.50 L535.00,17.50 L535.50,17.50 L536.00,17.50" fill="none" stroke="#1a1aff" stroke-width="1.4" stroke-linejoin="round" stroke-linecap="round" />
<path d="M396.00,15.30 L396.50,15.30 L397.00,15.30 L397.50,15.30 L398.00,15.30 L398.50,15.30 L399.00,15.30 L399.50,15.30 L400.00,15.31 L400.50,15.31 L401.00,15.31 L401.50,15.31 L402.00,15.31 L402.50,15.32 L403.00,15.32 L403.50,15.33 L404.00,15.33 L404.50,15.33 L405.00,15.34 L405.50,15.35 L406.00,15.35 L406.50,15.36 L407.00,15.37 L407.50,15.37 L408.00,15.38 L408.50,15.39 L409.00,15.40 L409.50,16.40 L410.00,18.97 L410.50,22.48 L411.00,26.31 L411.50,29.82 L412.00,32.66 L412.50,35.48 L413.00,38.21 L413.50,40.70 L414.00,42.78 L414.50,44.59 L415.00,46.25 L415.50,47.78 L416.00,49.20 L416.50,50.55 L417.00,51.86 L417.50,53.14 L418.00,54.39 L418.50,55.54 L419.00,56.62 L419.50,57.67 L420.00,58.72 L420.50,59.81 L421.00,60.95 L421.50,62.20 L422.00,63.85 L422.50,65.81 L423.00,67.53 L423.50,68.46 L424.00,68.55 L424.50,68.59 L425.00,68.63 L425.50,68.65 L426.00,68.67 L426.50,68.68 L427.00,68.69 L427.50,68.70 L428.00,68.71 L428.50,68.72 L429.00,68.73 L429.50,68.75 L430.00,68.78 L430.50,68.81 L431.00,68.86 L431.50,68.93 L432.00,69.63 L432.50,71.00 L433.00,72.76 L433.50,74.64 L434.00,76.66 L434.50,79.19 L435.00,81.92 L435.50,84.52 L436.00,86.84 L436.50,89.08 L437.00,91.26 L437.50,93.39 L438.00,95.50 L438.50,97.58 L439.00,99.67 L439.50,101.75 L440.00,103.81 L440.50,105.82 L441.00,107.77 L441.50,109.64 L442.00,111.52 L442.50,113.50 L443.00,115.25 L443.50,116.45 L444.00,117.10 L444.50,117.63 L445.00,118.02 L445.50,118.19 L446.00,118.18 L446.50,118.11 L447.00,118.02 L447.50,117.91 L448.00,117.80 L448.50,117.73 L449.00,117.70 L449.50,117.71 L450.00,117.73 L450.50,117.76 L451.00,117.80 L451.50,117.85 L452.00,117.90 L452.50,117.95 L453.00,118.00 L453.50,118.04 L454.00,118.07 L454.50,118.09 L455.00,118.10 L455.50,118.09 L456.00,118.07 L456.50,118.04 L457.00,118.00 L457.50,117.95 L458.00,117.90 L458.50,117.85 L459.00,117.80 L459.50,117.76 L460.00,117.73 L460.50,117.71 L461.00,117.70 L461.50,117.70 L462.00,117.72 L462.50,117.74 L463.00,117.76 L463.50,117.79 L464.00,117.82 L464.50,117.85 L465.00,117.88 L465.50,117.91 L466.00,117.94 L466.50,117.96 L467.00,117.98 L467.50,118.00 L468.00,118.00 L468.50,117.99 L469.00,117.98 L469.50,117.95 L470.00,117.92 L470.50,117.88 L471.00,117.84 L471.50,117.80 L472.00,117.76 L472.50,117.72 L473.00,117.68 L473.50,117.65 L474.00,117.62 L474.50,117.61 L475.00,117.60 L475.50,117.60 L476.00,117.62 L476.50,117.64 L477.00,117.66 L477.50,117.69 L478.00,117.72 L478.50,117.75 L479.00,117.78 L479.50,117.81 L480.00,117.84 L480.50,117.86 L481.00,117.88 L481.50,117.90 L482.00,117.90 L482.50,117.89 L483.00,117.86 L483.50,117.82 L484.00,117.77 L484.50,117.73 L485.00,117.68 L485.50,117.64 L486.00,117.61 L486.50,117.60 L487.00,117.71 L487.50,117.97 L488.00,118.24 L488.50,118.39 L489.00,118.31 L489.50,117.98 L490.00,117.50 L490.50,116.56 L491.00,114.98 L491.50,113.12 L492.00,111.25 L492.50,109.19 L493.00,106.91 L493.50,104.49 L494.00,101.97 L494.50,99.23 L495.00,96.31 L495.50,93.32 L496.00,90.36 L496.50,87.54 L497.00,84.79 L497.50,81.92 L498.00,79.10 L498.50,76.51 L499.00,74.33 L499.50,72.72 L500.00,71.33 L500.50,70.19 L501.00,69.62 L501.50,69.60 L502.00,69.61 L502.50,69.62 L503.00,69.63 L503.50,69.64 L504.00,69.66 L504.50,69.68 L505.00,69.70 L505.50,69.72 L506.00,69.75 L506.50,69.77 L507.00,69.80 L507.50,69.84 L508.00,69.89 L508.50,69.95 L509.00,70.01 L509.50,70.06 L510.00,70.09 L510.50,70.07 L511.00,69.80 L511.50,69.28 L512.00,68.60 L512.50,67.13 L513.00,64.67 L513.50,61.98 L514.00,59.59 L514.50,57.15 L515.00,54.67 L515.50,52.23 L516.00,49.89 L516.50,47.71 L517.00,45.64 L517.50,43.65 L518.00,41.71 L518.50,39.79 L519.00,37.89 L519.50,35.97 L520.00,34.00 L520.50,31.91 L521.00,29.70 L521.50,27.44 L522.00,25.23 L522.50,23.15 L523.00,21.30 L523.50,19.76 L524.00,18.44 L524.50,17.15 L525.00,16.13 L525.50,15.62 L526.00,15.59 L526.50,15.58 L527.00,15.57 L527.50,15.56 L528.00,15.55 L528.50,15.54 L529.00,15.54 L529.50,15.53 L530.00,15.53 L530.50,15.52 L531.00,15.52 L531.50,15.51 L532.00,15.51 L532.50,15.51 L533.00,15.50 L533.50,15.50 L534.00,15.50 L534.50,15.50 L535.00,15.50 L535.50,15.50 L536.00,15.50" fill="none" stroke="#ff1a1a" stroke-width="1.3" stroke-linejoin="round" stroke-linecap="round" />
<rect x="447.1" y="26.5" width="41.80" height="20.80" fill="#fff" stroke="#888" stroke-width="0.7"/>
<line x1="447.60" y1="30.40" x2="458.80" y2="30.40" stroke="#222" stroke-width="1.1"/>
<line x1="447.60" y1="37.40" x2="458.80" y2="37.40" stroke="#ff2020" stroke-width="1.1"/>
<line x1="447.60" y1="41.60" x2="458.80" y2="41.60" stroke="#ffb0b0" stroke-width="1.0"/>
<line x1="447.60" y1="44.40" x2="458.80" y2="44.40" stroke="#2020ff" stroke-width="1.1"/>
<line x1="447.60" y1="46.80" x2="458.80" y2="46.80" stroke="#60e0f0" stroke-width="1.0"/>
<text x="460.60" y="32.40" font-family="'Liberation Sans', sans-serif" font-size="5.8" font-weight="bold" text-anchor="start" fill="#000"  textLength="27" lengthAdjust="spacingAndGlyphs">Structure 1</text>
<text x="460.60" y="39.40" font-family="'Liberation Sans', sans-serif" font-size="5.8" font-weight="bold" text-anchor="start" fill="#000"  textLength="27" lengthAdjust="spacingAndGlyphs">Structure 2</text>
<text x="460.60" y="46.40" font-family="'Liberation Sans', sans-serif" font-size="5.8" font-weight="bold" text-anchor="start" fill="#000"  textLength="27" lengthAdjust="spacingAndGlyphs">Structure 3</text>
<rect x="395.6" y="10.8" width="140.90" height="111.60" fill="none" stroke="#666" stroke-width="1.0"/>
<text x="392.30" y="119.55" font-family="'Liberation Sans', sans-serif" font-size="7.1" font-weight="bold" text-anchor="end" fill="#000"  textLength="6.4" lengthAdjust="spacingAndGlyphs">40</text>
<text x="392.30" y="95.95" font-family="'Liberation Sans', sans-serif" font-size="7.1" font-weight="bold" text-anchor="end" fill="#000"  textLength="6.4" lengthAdjust="spacingAndGlyphs">60</text>
<text x="392.30" y="72.35" font-family="'Liberation Sans', sans-serif" font-size="7.1" font-weight="bold" text-anchor="end" fill="#000"  textLength="6.4" lengthAdjust="spacingAndGlyphs">80</text>
<text x="392.30" y="48.75" font-family="'Liberation Sans', sans-serif" font-size="7.1" font-weight="bold" text-anchor="end" fill="#000"  textLength="9.5" lengthAdjust="spacingAndGlyphs">100</text>
<text x="392.30" y="25.15" font-family="'Liberation Sans', sans-serif" font-size="7.1" font-weight="bold" text-anchor="end" fill="#000"  textLength="9.5" lengthAdjust="spacingAndGlyphs">120</text>
<text x="411.70" y="132.10" font-family="'Liberation Sans', sans-serif" font-size="7.1" font-weight="bold" text-anchor="middle" fill="#000"  textLength="6.4" lengthAdjust="spacingAndGlyphs">40</text>
<text x="434.48" y="132.10" font-family="'Liberation Sans', sans-serif" font-size="7.1" font-weight="bold" text-anchor="middle" fill="#000"  textLength="6.4" lengthAdjust="spacingAndGlyphs">44</text>
<text x="457.26" y="132.10" font-family="'Liberation Sans', sans-serif" font-size="7.1" font-weight="bold" text-anchor="middle" fill="#000"  textLength="6.4" lengthAdjust="spacingAndGlyphs">48</text>
<text x="480.04" y="132.10" font-family="'Liberation Sans', sans-serif" font-size="7.1" font-weight="bold" text-anchor="middle" fill="#000"  textLength="6.4" lengthAdjust="spacingAndGlyphs">52</text>
<text x="502.82" y="132.10" font-family="'Liberation Sans', sans-serif" font-size="7.1" font-weight="bold" text-anchor="middle" fill="#000"  textLength="6.4" lengthAdjust="spacingAndGlyphs">56</text>
<text x="525.60" y="132.10" font-family="'Liberation Sans', sans-serif" font-size="7.1" font-weight="bold" text-anchor="middle" fill="#000"  textLength="6.4" lengthAdjust="spacingAndGlyphs">60</text>
<text x="460.95" y="142.90" font-family="'Liberation Sans', sans-serif" font-size="7.5" font-weight="bold" text-anchor="middle" fill="#000"  textLength="71.7" lengthAdjust="spacingAndGlyphs">Position of fiber (mm)</text>
<text transform="translate(376.60,69.00) rotate(-90)" x="0" y="0" font-family="'Liberation Sans', sans-serif" font-size="7.3" font-weight="bold" text-anchor="middle" fill="#000" textLength="50.7" lengthAdjust="spacingAndGlyphs">Diameter (µm)</text>
<text x="398.80" y="119.40" font-family="'Liberation Serif', sans-serif" font-size="19.6" font-weight="bold" text-anchor="start" fill="#000" >C</text>
<path d="M40.10,166.00 L40.60,166.00 L41.10,166.00 L41.60,166.00 L42.10,166.00 L42.60,166.00 L43.10,166.00 L43.60,166.00 L44.10,166.00 L44.60,166.00 L45.10,166.00 L45.60,166.02 L46.10,166.08 L46.60,166.26 L47.10,166.68 L47.60,167.40 L48.10,168.38 L48.60,169.56 L49.10,170.92 L49.60,172.45 L50.10,174.15 L50.60,175.96 L51.10,177.81 L51.60,179.64 L52.10,181.43 L52.60,183.19 L53.10,184.91 L53.60,186.58 L54.10,188.18 L54.60,189.70 L55.10,191.14 L55.60,192.52 L56.10,193.86 L56.60,195.18 L57.10,196.51 L57.60,197.84 L58.10,199.15 L58.60,200.44 L59.10,201.67 L59.60,202.85 L60.10,203.97 L60.60,205.05 L61.10,206.08 L61.60,207.05 L62.10,207.97 L62.60,208.85 L63.10,209.65 L63.60,210.34 L64.10,210.86 L64.60,211.22 L65.10,211.45 L65.60,211.61 L66.10,211.75 L66.60,211.87 L67.10,212.01 L67.60,212.16 L68.10,212.32 L68.60,212.54 L69.10,212.88 L69.60,213.42 L70.10,214.27 L70.60,215.45 L71.10,216.95 L71.60,218.72 L72.10,220.71 L72.60,222.93 L73.10,225.45 L73.60,228.41 L74.10,231.81 L74.60,235.47 L75.10,239.11 L75.60,242.48 L76.10,245.51 L76.60,248.25 L77.10,250.77 L77.60,253.01 L78.10,254.84 L78.60,256.10 L79.10,256.64 L79.60,256.41 L80.10,255.42 L80.60,253.80 L81.10,251.70 L81.60,249.28 L82.10,246.63 L82.60,243.70 L83.10,240.43 L83.60,236.82 L84.10,233.11 L84.60,229.61 L85.10,226.57 L85.60,224.05 L86.10,221.94 L86.60,220.08 L87.10,218.41 L87.60,216.96 L88.10,215.76 L88.60,214.88 L89.10,214.36 L89.60,214.26 L90.10,214.59 L90.60,215.34 L91.10,216.46 L91.60,217.88 L92.10,219.55 L92.60,221.43 L93.10,223.54 L93.60,226.02 L94.10,228.98 L94.60,232.42 L95.10,236.11 L95.60,239.75 L96.10,243.09 L96.60,246.07 L97.10,248.77 L97.60,251.24 L98.10,253.41 L98.60,255.14 L99.10,256.27 L99.60,256.66 L100.10,256.27 L100.60,255.14 L101.10,253.41 L101.60,251.24 L102.10,248.77 L102.60,246.06 L103.10,243.06 L103.60,239.69 L104.10,236.03 L104.60,232.32 L105.10,228.91 L105.60,226.04 L106.10,223.71 L106.60,221.76 L107.10,220.05 L107.60,218.51 L108.10,217.15 L108.60,216.00 L109.10,215.09 L109.60,214.48 L110.10,214.20 L110.60,214.30 L111.10,214.79 L111.60,215.65 L112.10,216.84 L112.60,218.31 L113.10,220.00 L113.60,221.89 L114.10,224.03 L114.60,226.57 L115.10,229.62 L115.60,233.13 L116.10,236.84 L116.60,240.44 L117.10,243.71 L117.60,246.63 L118.10,249.28 L118.60,251.70 L119.10,253.80 L119.60,255.42 L120.10,256.41 L120.60,256.64 L121.10,256.10 L121.60,254.84 L122.10,253.01 L122.60,250.77 L123.10,248.25 L123.60,245.49 L124.10,242.44 L124.60,239.02 L125.10,235.33 L125.60,231.66 L126.10,228.33 L126.60,225.50 L127.10,223.17 L127.60,221.17 L128.10,219.39 L128.60,217.80 L129.10,216.45 L129.60,215.37 L130.10,214.62 L130.60,214.26 L131.10,214.30 L131.60,214.74 L132.10,215.56 L132.60,216.70 L133.10,218.11 L133.60,219.73 L134.10,221.55 L134.60,223.60 L135.10,226.03 L135.60,228.96 L136.10,232.38 L136.60,236.08 L137.10,239.73 L137.60,243.08 L138.10,246.07 L138.60,248.77 L139.10,251.24 L139.60,253.41 L140.10,255.14 L140.60,256.27 L141.10,256.66 L141.60,256.27 L142.10,255.14 L142.60,253.41 L143.10,251.24 L143.60,248.78 L144.10,246.11 L144.60,243.19 L145.10,239.96 L145.60,236.44 L146.10,232.79 L146.60,229.23 L147.10,225.91 L147.60,222.86 L148.10,220.07 L148.60,217.59 L149.10,215.56 L149.60,214.13 L150.10,213.26 L150.60,212.81 L151.10,212.56 L151.60,212.40 L152.10,212.25 L152.60,212.10 L153.10,211.94 L153.60,211.76 L154.10,211.54 L154.60,211.25 L155.10,210.80 L155.60,210.17 L156.10,209.34 L156.60,208.36 L157.10,207.29 L157.60,206.19 L158.10,205.05 L158.60,203.88 L159.10,202.67 L159.60,201.43 L160.10,200.16 L160.60,198.87 L161.10,197.56 L161.60,196.24 L162.10,194.92 L162.60,193.61 L163.10,192.29 L163.60,190.95 L164.10,189.56 L164.60,188.10 L165.10,186.55 L165.60,184.93 L166.10,183.28 L166.60,181.65 L167.10,180.08 L167.60,178.59 L168.10,177.16 L168.60,175.78 L169.10,174.46 L169.60,173.21 L170.10,172.05 L170.60,170.95 L171.10,169.92 L171.60,168.94 L172.10,168.03 L172.60,167.28 L173.10,166.72 L173.60,166.39 L174.10,166.22 L174.60,166.15 L175.10,166.11 L175.60,166.09 L176.10,166.07 L176.60,166.05 L177.10,166.03 L177.60,166.02 L178.10,166.01 L178.60,166.01 L179.10,166.00 L179.60,166.00 L179.70,166.00" fill="none" stroke="#555" stroke-width="1.3" stroke-linejoin="round" stroke-linecap="round" />
<path d="M39.80,163.90 L40.30,163.90 L40.80,163.90 L41.30,163.90 L41.80,163.90 L42.30,163.90 L42.80,163.90 L43.30,163.90 L43.80,163.90 L44.30,163.90 L44.80,163.90 L45.30,163.90 L45.80,163.90 L46.30,163.92 L46.80,164.00 L47.30,164.22 L47.80,164.68 L48.30,165.45 L48.80,166.50 L49.30,167.81 L49.80,169.41 L50.30,171.32 L50.80,173.50 L51.30,175.81 L51.80,178.07 L52.30,180.19 L52.80,182.13 L53.30,183.93 L53.80,185.64 L54.30,187.27 L54.80,188.82 L55.30,190.31 L55.80,191.72 L56.30,193.09 L56.80,194.42 L57.30,195.75 L57.80,197.08 L58.30,198.40 L58.80,199.72 L59.30,200.99 L59.80,202.23 L60.30,203.43 L60.80,204.59 L61.30,205.69 L61.80,206.70 L62.30,207.57 L62.80,208.29 L63.30,208.89 L63.80,209.37 L64.30,209.77 L64.80,210.07 L65.30,210.31 L65.80,210.48 L66.30,210.63 L66.80,210.76 L67.30,210.89 L67.80,211.03 L68.30,211.18 L68.80,211.37 L69.30,211.65 L69.80,212.19 L70.30,213.18 L70.80,214.77 L71.30,216.95 L71.80,219.56 L72.30,222.45 L72.80,225.56 L73.30,228.90 L73.80,232.47 L74.30,236.13 L74.80,239.67 L75.30,242.89 L75.80,245.75 L76.30,248.31 L76.80,250.64 L77.30,252.70 L77.80,254.38 L78.30,255.53 L78.80,256.02 L79.30,255.81 L79.80,254.91 L80.30,253.43 L80.80,251.50 L81.30,249.26 L81.80,246.78 L82.30,243.99 L82.80,240.82 L83.30,237.28 L83.80,233.58 L84.30,230.03 L84.80,226.89 L85.30,224.21 L85.80,221.88 L86.30,219.79 L86.80,217.89 L87.30,216.20 L87.80,214.81 L88.30,213.77 L88.80,213.17 L89.30,213.05 L89.80,213.44 L90.30,214.31 L90.80,215.62 L91.30,217.27 L91.80,219.19 L92.30,221.31 L92.80,223.65 L93.30,226.31 L93.80,229.39 L94.30,232.89 L94.80,236.58 L95.30,240.16 L95.80,243.40 L96.30,246.25 L96.80,248.79 L97.30,251.08 L97.80,253.08 L98.30,254.66 L98.80,255.68 L99.30,256.04 L99.80,255.68 L100.30,254.66 L100.80,253.08 L101.30,251.08 L101.80,248.78 L102.30,246.24 L102.80,243.37 L103.30,240.10 L103.80,236.49 L104.30,232.79 L104.80,229.32 L105.30,226.33 L105.80,223.84 L106.30,221.69 L106.80,219.76 L107.30,218.00 L107.80,216.42 L108.30,215.08 L108.80,214.03 L109.30,213.31 L109.80,212.98 L110.30,213.09 L110.80,213.66 L111.30,214.67 L111.80,216.06 L112.30,217.76 L112.80,219.70 L113.30,221.82 L113.80,224.18 L114.30,226.89 L114.80,230.05 L115.30,233.60 L115.80,237.30 L116.30,240.83 L116.80,244.00 L117.30,246.78 L117.80,249.27 L118.30,251.50 L118.80,253.43 L119.30,254.91 L119.80,255.81 L120.30,256.02 L120.80,255.53 L121.30,254.38 L121.80,252.70 L122.30,250.64 L122.80,248.30 L123.30,245.70 L123.80,242.77 L124.30,239.44 L124.80,235.81 L125.30,232.13 L125.80,228.72 L126.30,225.76 L126.80,223.24 L127.30,221.02 L127.80,219.01 L128.30,217.18 L128.80,215.61 L129.30,214.35 L129.80,213.47 L130.30,213.04 L130.80,213.09 L131.30,213.61 L131.80,214.57 L132.30,215.90 L132.80,217.53 L133.30,219.39 L133.80,221.45 L134.30,223.72 L134.80,226.32 L135.30,229.37 L135.80,232.85 L136.30,236.55 L136.80,240.14 L137.30,243.39 L137.80,246.24 L138.30,248.79 L138.80,251.08 L139.30,253.08 L139.80,254.66 L140.30,255.68 L140.80,256.04 L141.30,255.68 L141.80,254.66 L142.30,253.08 L142.80,251.08 L143.30,248.80 L143.80,246.31 L144.30,243.58 L144.80,240.54 L145.30,237.16 L145.80,233.54 L146.30,229.79 L146.80,225.99 L147.30,222.19 L147.80,218.57 L148.30,215.53 L148.80,213.42 L149.30,212.26 L149.80,211.74 L150.30,211.49 L150.80,211.33 L151.30,211.19 L151.80,211.03 L152.30,210.86 L152.80,210.68 L153.30,210.45 L153.80,210.15 L154.30,209.75 L154.80,209.22 L155.30,208.57 L155.80,207.80 L156.30,206.95 L156.80,205.99 L157.30,204.92 L157.80,203.75 L158.30,202.51 L158.80,201.24 L159.30,199.95 L159.80,198.64 L160.30,197.33 L160.80,196.01 L161.30,194.70 L161.80,193.39 L162.30,192.06 L162.80,190.70 L163.30,189.29 L163.80,187.81 L164.30,186.26 L164.80,184.65 L165.30,182.99 L165.80,181.32 L166.30,179.63 L166.80,177.91 L167.30,176.16 L167.80,174.42 L168.30,172.75 L168.80,171.18 L169.30,169.77 L169.80,168.53 L170.30,167.42 L170.80,166.43 L171.30,165.57 L171.80,164.90 L172.30,164.45 L172.80,164.20 L173.30,164.09 L173.80,164.04 L174.30,164.01 L174.80,163.99 L175.30,163.97 L175.80,163.95 L176.30,163.94 L176.80,163.93 L177.30,163.92 L177.80,163.91 L178.30,163.91 L178.80,163.90 L179.30,163.90 L179.40,163.90" fill="none" stroke="#ff3a3a" stroke-width="1.3" stroke-linejoin="round" stroke-linecap="round" />
<path d="M39.80,166.30 L40.30,166.30 L40.80,166.30 L41.30,166.30 L41.80,166.30 L42.30,166.30 L42.80,166.30 L43.30,166.30 L43.80,166.30 L44.30,166.30 L44.80,166.30 L45.30,166.32 L45.80,166.38 L46.30,166.56 L46.80,166.98 L47.30,167.70 L47.80,168.68 L48.30,169.86 L48.80,171.22 L49.30,172.75 L49.80,174.45 L50.30,176.26 L50.80,178.11 L51.30,179.94 L51.80,181.73 L52.30,183.49 L52.80,185.21 L53.30,186.88 L53.80,188.48 L54.30,190.00 L54.80,191.44 L55.30,192.82 L55.80,194.16 L56.30,195.48 L56.80,196.81 L57.30,198.14 L57.80,199.45 L58.30,200.74 L58.80,201.97 L59.30,203.15 L59.80,204.27 L60.30,205.35 L60.80,206.38 L61.30,207.35 L61.80,208.27 L62.30,209.15 L62.80,209.95 L63.30,210.64 L63.80,211.16 L64.30,211.52 L64.80,211.75 L65.30,211.91 L65.80,212.05 L66.30,212.17 L66.80,212.31 L67.30,212.46 L67.80,212.62 L68.30,212.84 L68.80,213.18 L69.30,213.72 L69.80,214.57 L70.30,215.75 L70.80,217.25 L71.30,219.02 L71.80,221.01 L72.30,223.23 L72.80,225.75 L73.30,228.71 L73.80,232.11 L74.30,235.77 L74.80,239.41 L75.30,242.78 L75.80,245.81 L76.30,248.55 L76.80,251.07 L77.30,253.31 L77.80,255.14 L78.30,256.40 L78.80,256.94 L79.30,256.71 L79.80,255.72 L80.30,254.10 L80.80,252.00 L81.30,249.58 L81.80,246.93 L82.30,244.00 L82.80,240.73 L83.30,237.12 L83.80,233.41 L84.30,229.91 L84.80,226.87 L85.30,224.35 L85.80,222.24 L86.30,220.38 L86.80,218.71 L87.30,217.26 L87.80,216.06 L88.30,215.18 L88.80,214.66 L89.30,214.56 L89.80,214.89 L90.30,215.64 L90.80,216.76 L91.30,218.18 L91.80,219.85 L92.30,221.73 L92.80,223.84 L93.30,226.32 L93.80,229.28 L94.30,232.72 L94.80,236.41 L95.30,240.05 L95.80,243.39 L96.30,246.37 L96.80,249.07 L97.30,251.54 L97.80,253.71 L98.30,255.44 L98.80,256.57 L99.30,256.96 L99.80,256.57 L100.30,255.44 L100.80,253.71 L101.30,251.54 L101.80,249.07 L102.30,246.36 L102.80,243.36 L103.30,239.99 L103.80,236.33 L104.30,232.62 L104.80,229.21 L105.30,226.34 L105.80,224.01 L106.30,222.06 L106.80,220.35 L107.30,218.81 L107.80,217.45 L108.30,216.30 L108.80,215.39 L109.30,214.78 L109.80,214.50 L110.30,214.60 L110.80,215.09 L111.30,215.95 L111.80,217.14 L112.30,218.61 L112.80,220.30 L113.30,222.19 L113.80,224.33 L114.30,226.87 L114.80,229.92 L115.30,233.43 L115.80,237.14 L116.30,240.74 L116.80,244.01 L117.30,246.93 L117.80,249.58 L118.30,252.00 L118.80,254.10 L119.30,255.72 L119.80,256.71 L120.30,256.94 L120.80,256.40 L121.30,255.14 L121.80,253.31 L122.30,251.07 L122.80,248.55 L123.30,245.79 L123.80,242.74 L124.30,239.32 L124.80,235.63 L125.30,231.96 L125.80,228.63 L126.30,225.80 L126.80,223.47 L127.30,221.47 L127.80,219.69 L128.30,218.10 L128.80,216.75 L129.30,215.67 L129.80,214.92 L130.30,214.56 L130.80,214.60 L131.30,215.04 L131.80,215.86 L132.30,217.00 L132.80,218.41 L133.30,220.03 L133.80,221.85 L134.30,223.90 L134.80,226.33 L135.30,229.26 L135.80,232.68 L136.30,236.38 L136.80,240.03 L137.30,243.38 L137.80,246.37 L138.30,249.07 L138.80,251.54 L139.30,253.71 L139.80,255.44 L140.30,256.57 L140.80,256.96 L141.30,256.57 L141.80,255.44 L142.30,253.71 L142.80,251.54 L143.30,249.08 L143.80,246.41 L144.30,243.49 L144.80,240.26 L145.30,236.74 L145.80,233.09 L146.30,229.53 L146.80,226.21 L147.30,223.16 L147.80,220.37 L148.30,217.89 L148.80,215.86 L149.30,214.43 L149.80,213.56 L150.30,213.11 L150.80,212.86 L151.30,212.70 L151.80,212.55 L152.30,212.40 L152.80,212.24 L153.30,212.06 L153.80,211.84 L154.30,211.55 L154.80,211.10 L155.30,210.47 L155.80,209.64 L156.30,208.66 L156.80,207.59 L157.30,206.49 L157.80,205.35 L158.30,204.18 L158.80,202.97 L159.30,201.73 L159.80,200.46 L160.30,199.17 L160.80,197.86 L161.30,196.54 L161.80,195.22 L162.30,193.91 L162.80,192.59 L163.30,191.25 L163.80,189.86 L164.30,188.40 L164.80,186.85 L165.30,185.23 L165.80,183.58 L166.30,181.95 L166.80,180.38 L167.30,178.89 L167.80,177.46 L168.30,176.08 L168.80,174.76 L169.30,173.51 L169.80,172.35 L170.30,171.25 L170.80,170.22 L171.30,169.24 L171.80,168.33 L172.30,167.58 L172.80,167.02 L173.30,166.69 L173.80,166.52 L174.30,166.45 L174.80,166.41 L175.30,166.39 L175.80,166.37 L176.30,166.35 L176.80,166.33 L177.30,166.32 L177.80,166.31 L178.30,166.31 L178.80,166.30 L179.30,166.30 L179.40,166.30" fill="none" stroke="#2ec4ec" stroke-width="1.4" stroke-linejoin="round" stroke-linecap="round" />
<rect x="81.4" y="155.1" width="45.60" height="28.40" fill="#fff" stroke="#666" stroke-width="0.8"/>
<line x1="83.80" y1="161.10" x2="98.80" y2="161.10" stroke="#666" stroke-width="1.6"/>
<text x="102.80" y="163.60" font-family="'Liberation Sans', sans-serif" font-size="7.0" font-weight="bold" text-anchor="start" fill="#000"  textLength="22.4" lengthAdjust="spacingAndGlyphs">Probe 1</text>
<line x1="83.80" y1="169.60" x2="98.80" y2="169.60" stroke="#ff2020" stroke-width="1.6"/>
<text x="102.80" y="172.10" font-family="'Liberation Sans', sans-serif" font-size="7.0" font-weight="bold" text-anchor="start" fill="#000"  textLength="22.4" lengthAdjust="spacingAndGlyphs">Probe 2</text>
<line x1="83.80" y1="177.70" x2="98.80" y2="177.70" stroke="#30ccf0" stroke-width="1.6"/>
<text x="102.80" y="180.20" font-family="'Liberation Sans', sans-serif" font-size="7.0" font-weight="bold" text-anchor="start" fill="#000"  textLength="22.4" lengthAdjust="spacingAndGlyphs">Probe 3</text>
<rect x="39.6" y="155.1" width="139.90" height="115.00" fill="none" stroke="#666" stroke-width="1.0"/>
<line x1="39.60" y1="259.80" x2="42.40" y2="259.80" stroke="#666" stroke-width="0.8"/>
<line x1="39.60" y1="249.33" x2="41.20" y2="249.33" stroke="#666" stroke-width="0.8"/>
<line x1="39.60" y1="238.86" x2="42.40" y2="238.86" stroke="#666" stroke-width="0.8"/>
<line x1="39.60" y1="228.39" x2="41.20" y2="228.39" stroke="#666" stroke-width="0.8"/>
<line x1="39.60" y1="217.92" x2="42.40" y2="217.92" stroke="#666" stroke-width="0.8"/>
<line x1="39.60" y1="207.45" x2="41.20" y2="207.45" stroke="#666" stroke-width="0.8"/>
<line x1="39.60" y1="196.98" x2="42.40" y2="196.98" stroke="#666" stroke-width="0.8"/>
<line x1="39.60" y1="186.51" x2="41.20" y2="186.51" stroke="#666" stroke-width="0.8"/>
<line x1="39.60" y1="176.04" x2="42.40" y2="176.04" stroke="#666" stroke-width="0.8"/>
<line x1="39.60" y1="165.57" x2="41.20" y2="165.57" stroke="#666" stroke-width="0.8"/>
<line x1="39.60" y1="155.10" x2="42.40" y2="155.10" stroke="#666" stroke-width="0.8"/>
<line x1="43.20" y1="270.10" x2="43.20" y2="268.50" stroke="#666" stroke-width="0.8"/>
<line x1="61.10" y1="270.10" x2="61.10" y2="267.30" stroke="#666" stroke-width="0.8"/>
<line x1="79.00" y1="270.10" x2="79.00" y2="268.50" stroke="#666" stroke-width="0.8"/>
<line x1="96.90" y1="270.10" x2="96.90" y2="267.30" stroke="#666" stroke-width="0.8"/>
<line x1="114.80" y1="270.10" x2="114.80" y2="268.50" stroke="#666" stroke-width="0.8"/>
<line x1="132.70" y1="270.10" x2="132.70" y2="267.30" stroke="#666" stroke-width="0.8"/>
<line x1="150.60" y1="270.10" x2="150.60" y2="268.50" stroke="#666" stroke-width="0.8"/>
<line x1="168.50" y1="270.10" x2="168.50" y2="267.30" stroke="#666" stroke-width="0.8"/>
<text x="37.00" y="262.80" font-family="'Liberation Sans', sans-serif" font-size="8.4" font-weight="bold" text-anchor="end" fill="#000" >40</text>
<text x="37.00" y="241.86" font-family="'Liberation Sans', sans-serif" font-size="8.4" font-weight="bold" text-anchor="end" fill="#000" >60</text>
<text x="37.00" y="220.92" font-family="'Liberation Sans', sans-serif" font-size="8.4" font-weight="bold" text-anchor="end" fill="#000" >80</text>
<text x="37.00" y="199.98" font-family="'Liberation Sans', sans-serif" font-size="8.4" font-weight="bold" text-anchor="end" fill="#000" >100</text>
<text x="37.00" y="179.04" font-family="'Liberation Sans', sans-serif" font-size="8.4" font-weight="bold" text-anchor="end" fill="#000" >120</text>
<text x="37.00" y="158.10" font-family="'Liberation Sans', sans-serif" font-size="8.4" font-weight="bold" text-anchor="end" fill="#000" >140</text>
<text x="61.10" y="279.90" font-family="'Liberation Sans', sans-serif" font-size="8.4" font-weight="bold" text-anchor="middle" fill="#000" >40</text>
<text x="96.90" y="279.90" font-family="'Liberation Sans', sans-serif" font-size="8.4" font-weight="bold" text-anchor="middle" fill="#000" >45</text>
<text x="132.70" y="279.90" font-family="'Liberation Sans', sans-serif" font-size="8.4" font-weight="bold" text-anchor="middle" fill="#000" >50</text>
<text x="168.50" y="279.90" font-family="'Liberation Sans', sans-serif" font-size="8.4" font-weight="bold" text-anchor="middle" fill="#000" >55</text>
<text x="105.60" y="292.00" font-family="'Liberation Sans', sans-serif" font-size="8.5" font-weight="bold" text-anchor="middle" fill="#000"  textLength="83.2" lengthAdjust="spacingAndGlyphs">Position of fiber (nm)</text>
<text transform="translate(17.70,206.30) rotate(-90)" x="0" y="0" font-family="'Liberation Sans', sans-serif" font-size="8.6" font-weight="bold" text-anchor="middle" fill="#000" textLength="58.3" lengthAdjust="spacingAndGlyphs">Diameter (µm)</text>
<text x="181.40" y="267.80" font-family="'Liberation Sans', sans-serif" font-size="7.0" font-weight="bold" text-anchor="start" fill="#000" >10<tspan dy="-3.2" font-size="5.6">3</tspan></text>
<text x="44.30" y="262.50" font-family="'Liberation Serif', sans-serif" font-size="19.2" font-weight="bold" text-anchor="start" fill="#000" >D</text>
<path d="M221.50,170.10 L222.00,170.10 L222.50,170.10 L223.00,170.11 L223.50,170.12 L224.00,170.13 L224.50,170.14 L225.00,170.16 L225.50,170.18 L226.00,170.20 L226.50,170.29 L227.00,170.49 L227.50,170.79 L228.00,171.17 L228.50,171.61 L229.00,172.21 L229.50,173.18 L230.00,174.44 L230.50,175.89 L231.00,177.76 L231.50,180.26 L232.00,182.70 L232.50,184.77 L233.00,186.68 L233.50,188.48 L234.00,190.25 L234.50,192.04 L235.00,193.91 L235.50,195.94 L236.00,198.18 L236.50,200.70 L237.00,203.81 L237.50,207.63 L238.00,211.90 L238.50,216.40 L239.00,220.88 L239.50,225.10 L240.00,228.81 L240.50,231.85 L241.00,234.61 L241.50,237.23 L242.00,239.72 L242.50,242.07 L243.00,244.30 L243.50,246.40 L244.00,248.39 L244.50,250.26 L245.00,252.02 L245.50,253.73 L246.00,255.52 L246.50,257.28 L247.00,258.86 L247.50,260.14 L248.00,260.97 L248.50,261.27 L249.00,261.44 L249.50,261.59 L250.00,261.71 L250.50,261.81 L251.00,261.90 L251.50,261.95 L252.00,261.99 L252.50,262.00 L253.00,261.99 L253.50,261.96 L254.00,261.91 L254.50,261.83 L255.00,261.74 L255.50,261.63 L256.00,261.51 L256.50,261.36 L257.00,261.20 L257.50,260.84 L258.00,260.13 L258.50,259.14 L259.00,257.93 L259.50,256.56 L260.00,255.09 L260.50,253.59 L261.00,252.08 L261.50,250.32 L262.00,248.27 L262.50,246.02 L263.00,243.62 L263.50,241.13 L264.00,238.62 L264.50,236.14 L265.00,233.76 L265.50,231.53 L266.00,229.39 L266.50,226.93 L267.00,224.48 L267.50,222.42 L268.00,221.14 L268.50,220.93 L269.00,221.26 L269.50,221.92 L270.00,222.84 L270.50,223.99 L271.00,225.31 L271.50,226.75 L272.00,228.26 L272.50,229.79 L273.00,231.39 L273.50,233.80 L274.00,236.71 L274.50,239.58 L275.00,241.85 L275.50,242.96 L276.00,242.83 L276.50,242.16 L277.00,241.05 L277.50,239.59 L278.00,237.84 L278.50,235.87 L279.00,233.76 L279.50,231.58 L280.00,229.18 L280.50,225.88 L281.00,221.84 L281.50,217.36 L282.00,212.72 L282.50,208.20 L283.00,204.10 L283.50,200.70 L284.00,197.68 L284.50,194.57 L285.00,191.44 L285.50,188.33 L286.00,185.32 L286.50,182.46 L287.00,179.80 L287.50,177.41 L288.00,175.35 L288.50,173.66 L289.00,172.43 L289.50,171.69 L290.00,171.51 L290.50,171.92 L291.00,172.86 L291.50,174.28 L292.00,176.14 L292.50,178.37 L293.00,180.92 L293.50,183.74 L294.00,186.78 L294.50,189.98 L295.00,193.30 L295.50,196.66 L296.00,200.03 L296.50,203.92 L297.00,209.12 L297.50,215.00 L298.00,220.91 L298.50,226.17 L299.00,230.12 L299.50,232.83 L300.00,235.41 L300.50,237.83 L301.00,240.00 L301.50,241.84 L302.00,243.26 L302.50,244.18 L303.00,244.50 L303.50,243.99 L304.00,242.63 L304.50,240.65 L305.00,238.32 L305.50,235.86 L306.00,233.54 L306.50,231.59 L307.00,230.19 L307.50,228.88 L308.00,227.57 L308.50,226.28 L309.00,225.05 L309.50,223.94 L310.00,222.96 L310.50,222.16 L311.00,221.58 L311.50,221.26 L312.00,221.24 L312.50,221.66 L313.00,222.47 L313.50,223.62 L314.00,225.02 L314.50,226.60 L315.00,228.29 L315.50,230.02 L316.00,231.87 L316.50,234.37 L317.00,237.38 L317.50,240.68 L318.00,244.04 L318.50,247.25 L319.00,250.09 L319.50,252.34 L320.00,254.07 L320.50,255.73 L321.00,257.27 L321.50,258.62 L322.00,259.71 L322.50,260.45 L323.00,260.81 L323.50,261.07 L324.00,261.31 L324.50,261.51 L325.00,261.68 L325.50,261.82 L326.00,261.92 L326.50,261.98 L327.00,262.00 L327.50,261.99 L328.00,261.96 L328.50,261.92 L329.00,261.85 L329.50,261.77 L330.00,261.68 L330.50,261.56 L331.00,261.44 L331.50,261.29 L332.00,261.11 L332.50,260.68 L333.00,259.99 L333.50,259.05 L334.00,257.92 L334.50,256.62 L335.00,255.19 L335.50,253.65 L336.00,251.99 L336.50,249.73 L337.00,246.88 L337.50,243.59 L338.00,240.04 L338.50,236.38 L339.00,232.77 L339.50,229.33 L340.00,225.71 L340.50,221.91 L341.00,218.01 L341.50,214.10 L342.00,210.27 L342.50,206.60 L343.00,203.19 L343.50,200.11 L344.00,197.15 L344.50,194.21 L345.00,191.33 L345.50,188.54 L346.00,185.87 L346.50,183.37 L347.00,181.07 L347.50,179.00 L348.00,177.20 L348.50,175.70 L349.00,174.35 L349.50,173.03 L350.00,171.83 L350.50,170.85 L351.00,170.17 L351.50,169.90 L352.00,169.86 L352.50,169.82 L353.00,169.79 L353.50,169.76 L354.00,169.73 L354.50,169.71 L355.00,169.69 L355.50,169.67 L356.00,169.65 L356.50,169.64 L357.00,169.63 L357.50,169.62 L358.00,169.61 L358.50,169.60 L359.00,169.60 L359.50,169.60 L359.70,169.60" fill="none" stroke="#3c3cb0" stroke-width="1.3" stroke-linejoin="round" stroke-linecap="round" />
<path d="M221.50,169.40 L222.00,169.40 L222.50,169.40 L223.00,169.41 L223.50,169.42 L224.00,169.43 L224.50,169.44 L225.00,169.46 L225.50,169.48 L226.00,169.50 L226.50,169.59 L227.00,169.79 L227.50,170.09 L228.00,170.47 L228.50,170.91 L229.00,171.51 L229.50,172.48 L230.00,173.74 L230.50,175.19 L231.00,177.06 L231.50,179.56 L232.00,182.00 L232.50,184.07 L233.00,185.98 L233.50,187.78 L234.00,189.55 L234.50,191.34 L235.00,193.21 L235.50,195.24 L236.00,197.48 L236.50,200.00 L237.00,203.11 L237.50,206.93 L238.00,211.20 L238.50,215.70 L239.00,220.18 L239.50,224.40 L240.00,228.11 L240.50,231.15 L241.00,233.91 L241.50,236.53 L242.00,239.02 L242.50,241.37 L243.00,243.60 L243.50,245.70 L244.00,247.69 L244.50,249.56 L245.00,251.32 L245.50,253.03 L246.00,254.82 L246.50,256.58 L247.00,258.16 L247.50,259.44 L248.00,260.27 L248.50,260.57 L249.00,260.74 L249.50,260.89 L250.00,261.01 L250.50,261.11 L251.00,261.20 L251.50,261.25 L252.00,261.29 L252.50,261.30 L253.00,261.29 L253.50,261.26 L254.00,261.21 L254.50,261.13 L255.00,261.04 L255.50,260.93 L256.00,260.81 L256.50,260.66 L257.00,260.50 L257.50,260.14 L258.00,259.43 L258.50,258.44 L259.00,257.23 L259.50,255.86 L260.00,254.39 L260.50,252.89 L261.00,251.38 L261.50,249.62 L262.00,247.57 L262.50,245.32 L263.00,242.92 L263.50,240.43 L264.00,237.92 L264.50,235.44 L265.00,233.06 L265.50,230.83 L266.00,228.69 L266.50,226.23 L267.00,223.78 L267.50,221.72 L268.00,220.44 L268.50,220.23 L269.00,220.56 L269.50,221.22 L270.00,222.14 L270.50,223.29 L271.00,224.61 L271.50,226.05 L272.00,227.56 L272.50,229.09 L273.00,230.69 L273.50,233.10 L274.00,236.01 L274.50,238.88 L275.00,241.15 L275.50,242.26 L276.00,242.13 L276.50,241.46 L277.00,240.35 L277.50,238.89 L278.00,237.14 L278.50,235.17 L279.00,233.06 L279.50,230.88 L280.00,228.48 L280.50,225.18 L281.00,221.14 L281.50,216.66 L282.00,212.02 L282.50,207.50 L283.00,203.40 L283.50,200.00 L284.00,196.98 L284.50,193.87 L285.00,190.74 L285.50,187.63 L286.00,184.62 L286.50,181.76 L287.00,179.10 L287.50,176.71 L288.00,174.65 L288.50,172.96 L289.00,171.73 L289.50,170.99 L290.00,170.81 L290.50,171.22 L291.00,172.16 L291.50,173.58 L292.00,175.44 L292.50,177.67 L293.00,180.22 L293.50,183.04 L294.00,186.08 L294.50,189.28 L295.00,192.60 L295.50,195.96 L296.00,199.33 L296.50,203.22 L297.00,208.42 L297.50,214.30 L298.00,220.21 L298.50,225.47 L299.00,229.42 L299.50,232.13 L300.00,234.71 L300.50,237.13 L301.00,239.30 L301.50,241.14 L302.00,242.56 L302.50,243.48 L303.00,243.80 L303.50,243.29 L304.00,241.93 L304.50,239.95 L305.00,237.62 L305.50,235.16 L306.00,232.84 L306.50,230.89 L307.00,229.49 L307.50,228.18 L308.00,226.87 L308.50,225.58 L309.00,224.35 L309.50,223.24 L310.00,222.26 L310.50,221.46 L311.00,220.88 L311.50,220.56 L312.00,220.54 L312.50,220.96 L313.00,221.77 L313.50,222.92 L314.00,224.32 L314.50,225.90 L315.00,227.59 L315.50,229.32 L316.00,231.17 L316.50,233.67 L317.00,236.68 L317.50,239.98 L318.00,243.34 L318.50,246.55 L319.00,249.39 L319.50,251.64 L320.00,253.37 L320.50,255.03 L321.00,256.57 L321.50,257.92 L322.00,259.01 L322.50,259.75 L323.00,260.11 L323.50,260.37 L324.00,260.61 L324.50,260.81 L325.00,260.98 L325.50,261.12 L326.00,261.22 L326.50,261.28 L327.00,261.30 L327.50,261.29 L328.00,261.26 L328.50,261.22 L329.00,261.15 L329.50,261.07 L330.00,260.98 L330.50,260.86 L331.00,260.74 L331.50,260.59 L332.00,260.41 L332.50,259.98 L333.00,259.29 L333.50,258.35 L334.00,257.22 L334.50,255.92 L335.00,254.49 L335.50,252.95 L336.00,251.29 L336.50,249.03 L337.00,246.18 L337.50,242.89 L338.00,239.34 L338.50,235.68 L339.00,232.07 L339.50,228.63 L340.00,225.01 L340.50,221.21 L341.00,217.31 L341.50,213.40 L342.00,209.57 L342.50,205.90 L343.00,202.49 L343.50,199.41 L344.00,196.45 L344.50,193.51 L345.00,190.63 L345.50,187.84 L346.00,185.17 L346.50,182.67 L347.00,180.37 L347.50,178.30 L348.00,176.50 L348.50,175.00 L349.00,173.65 L349.50,172.33 L350.00,171.13 L350.50,170.15 L351.00,169.47 L351.50,169.20 L352.00,169.16 L352.50,169.12 L353.00,169.09 L353.50,169.06 L354.00,169.03 L354.50,169.01 L355.00,168.99 L355.50,168.97 L356.00,168.95 L356.50,168.94 L357.00,168.93 L357.50,168.92 L358.00,168.91 L358.50,168.90 L359.00,168.90 L359.50,168.90 L359.70,168.90" fill="none" stroke="#30b830" stroke-width="1.3" stroke-linejoin="round" stroke-linecap="round" />
<path d="M221.50,168.50 L222.00,168.50 L222.50,168.50 L223.00,168.51 L223.50,168.52 L224.00,168.53 L224.50,168.54 L225.00,168.56 L225.50,168.58 L226.00,168.60 L226.50,168.69 L227.00,168.89 L227.50,169.19 L228.00,169.57 L228.50,170.01 L229.00,170.61 L229.50,171.58 L230.00,172.84 L230.50,174.29 L231.00,176.16 L231.50,178.66 L232.00,181.10 L232.50,183.17 L233.00,185.08 L233.50,186.88 L234.00,188.65 L234.50,190.44 L235.00,192.31 L235.50,194.34 L236.00,196.58 L236.50,199.10 L237.00,202.21 L237.50,206.03 L238.00,210.30 L238.50,214.80 L239.00,219.28 L239.50,223.50 L240.00,227.21 L240.50,230.25 L241.00,233.01 L241.50,235.63 L242.00,238.12 L242.50,240.47 L243.00,242.70 L243.50,244.80 L244.00,246.79 L244.50,248.66 L245.00,250.42 L245.50,252.13 L246.00,253.92 L246.50,255.68 L247.00,257.26 L247.50,258.54 L248.00,259.37 L248.50,259.67 L249.00,259.84 L249.50,259.99 L250.00,260.11 L250.50,260.21 L251.00,260.30 L251.50,260.35 L252.00,260.39 L252.50,260.40 L253.00,260.39 L253.50,260.36 L254.00,260.31 L254.50,260.23 L255.00,260.14 L255.50,260.03 L256.00,259.91 L256.50,259.76 L257.00,259.60 L257.50,259.24 L258.00,258.53 L258.50,257.54 L259.00,256.33 L259.50,254.96 L260.00,253.49 L260.50,251.99 L261.00,250.48 L261.50,248.72 L262.00,246.67 L262.50,244.42 L263.00,242.02 L263.50,239.53 L264.00,237.02 L264.50,234.54 L265.00,232.16 L265.50,229.93 L266.00,227.79 L266.50,225.33 L267.00,222.88 L267.50,220.82 L268.00,219.54 L268.50,219.33 L269.00,219.66 L269.50,220.32 L270.00,221.24 L270.50,222.39 L271.00,223.71 L271.50,225.15 L272.00,226.66 L272.50,228.19 L273.00,229.79 L273.50,232.20 L274.00,235.11 L274.50,237.98 L275.00,240.25 L275.50,241.36 L276.00,241.23 L276.50,240.56 L277.00,239.45 L277.50,237.99 L278.00,236.24 L278.50,234.27 L279.00,232.16 L279.50,229.98 L280.00,227.58 L280.50,224.28 L281.00,220.24 L281.50,215.76 L282.00,211.12 L282.50,206.60 L283.00,202.50 L283.50,199.10 L284.00,196.08 L284.50,192.97 L285.00,189.84 L285.50,186.73 L286.00,183.72 L286.50,180.86 L287.00,178.20 L287.50,175.81 L288.00,173.75 L288.50,172.06 L289.00,170.83 L289.50,170.09 L290.00,169.91 L290.50,170.32 L291.00,171.26 L291.50,172.68 L292.00,174.54 L292.50,176.77 L293.00,179.32 L293.50,182.14 L294.00,185.18 L294.50,188.38 L295.00,191.70 L295.50,195.06 L296.00,198.43 L296.50,202.32 L297.00,207.52 L297.50,213.40 L298.00,219.31 L298.50,224.57 L299.00,228.52 L299.50,231.23 L300.00,233.81 L300.50,236.23 L301.00,238.40 L301.50,240.24 L302.00,241.66 L302.50,242.58 L303.00,242.90 L303.50,242.39 L304.00,241.03 L304.50,239.05 L305.00,236.72 L305.50,234.26 L306.00,231.94 L306.50,229.99 L307.00,228.59 L307.50,227.28 L308.00,225.97 L308.50,224.68 L309.00,223.45 L309.50,222.34 L310.00,221.36 L310.50,220.56 L311.00,219.98 L311.50,219.66 L312.00,219.64 L312.50,220.06 L313.00,220.87 L313.50,222.02 L314.00,223.42 L314.50,225.00 L315.00,226.69 L315.50,228.42 L316.00,230.27 L316.50,232.77 L317.00,235.78 L317.50,239.08 L318.00,242.44 L318.50,245.65 L319.00,248.49 L319.50,250.74 L320.00,252.47 L320.50,254.13 L321.00,255.67 L321.50,257.02 L322.00,258.11 L322.50,258.85 L323.00,259.21 L323.50,259.47 L324.00,259.71 L324.50,259.91 L325.00,260.08 L325.50,260.22 L326.00,260.32 L326.50,260.38 L327.00,260.40 L327.50,260.39 L328.00,260.36 L328.50,260.32 L329.00,260.25 L329.50,260.17 L330.00,260.08 L330.50,259.96 L331.00,259.84 L331.50,259.69 L332.00,259.51 L332.50,259.08 L333.00,258.39 L333.50,257.45 L334.00,256.32 L334.50,255.02 L335.00,253.59 L335.50,252.05 L336.00,250.39 L336.50,248.13 L337.00,245.28 L337.50,241.99 L338.00,238.44 L338.50,234.78 L339.00,231.17 L339.50,227.73 L340.00,224.11 L340.50,220.31 L341.00,216.41 L341.50,212.50 L342.00,208.67 L342.50,205.00 L343.00,201.59 L343.50,198.51 L344.00,195.55 L344.50,192.61 L345.00,189.73 L345.50,186.94 L346.00,184.27 L346.50,181.77 L347.00,179.47 L347.50,177.40 L348.00,175.60 L348.50,174.10 L349.00,172.75 L349.50,171.43 L350.00,170.23 L350.50,169.25 L351.00,168.57 L351.50,168.30 L352.00,168.26 L352.50,168.22 L353.00,168.19 L353.50,168.16 L354.00,168.13 L354.50,168.11 L355.00,168.09 L355.50,168.07 L356.00,168.05 L356.50,168.04 L357.00,168.03 L357.50,168.02 L358.00,168.01 L358.50,168.00 L359.00,168.00 L359.50,168.00 L359.70,168.00" fill="none" stroke="#ff9a30" stroke-width="1.3" stroke-linejoin="round" stroke-linecap="round" />
<rect x="269.2" y="247.1" width="43.00" height="23.90" fill="#fff" stroke="#222" stroke-width="0.9"/>
<line x1="269.60" y1="250.60" x2="285.90" y2="250.60" stroke="#4646c8" stroke-width="1.7"/>
<text x="286.90" y="253.00" font-family="'Liberation Sans', sans-serif" font-size="6.7" font-weight="bold" text-anchor="start" fill="#000"  textLength="24.5" lengthAdjust="spacingAndGlyphs">Probe 1</text>
<line x1="269.60" y1="258.80" x2="285.90" y2="258.80" stroke="#30c030" stroke-width="1.7"/>
<text x="286.90" y="261.20" font-family="'Liberation Sans', sans-serif" font-size="6.7" font-weight="bold" text-anchor="start" fill="#000"  textLength="24.5" lengthAdjust="spacingAndGlyphs">Probe 2</text>
<line x1="269.60" y1="267.30" x2="285.90" y2="267.30" stroke="#ffa040" stroke-width="1.7"/>
<text x="286.90" y="269.70" font-family="'Liberation Sans', sans-serif" font-size="6.7" font-weight="bold" text-anchor="start" fill="#000"  textLength="24.5" lengthAdjust="spacingAndGlyphs">Probe 3</text>
<rect x="221.3" y="157.6" width="139.50" height="113.40" fill="none" stroke="#444" stroke-width="1.3"/>
<text x="218.40" y="262.60" font-family="'Liberation Sans', sans-serif" font-size="7.5" font-weight="bold" text-anchor="end" fill="#000" >40</text>
<text x="218.40" y="242.16" font-family="'Liberation Sans', sans-serif" font-size="7.5" font-weight="bold" text-anchor="end" fill="#000" >60</text>
<text x="218.40" y="221.72" font-family="'Liberation Sans', sans-serif" font-size="7.5" font-weight="bold" text-anchor="end" fill="#000" >80</text>
<text x="218.40" y="201.28" font-family="'Liberation Sans', sans-serif" font-size="7.5" font-weight="bold" text-anchor="end" fill="#000" >100</text>
<text x="218.40" y="180.84" font-family="'Liberation Sans', sans-serif" font-size="7.5" font-weight="bold" text-anchor="end" fill="#000" >120</text>
<text x="218.40" y="160.40" font-family="'Liberation Sans', sans-serif" font-size="7.5" font-weight="bold" text-anchor="end" fill="#000" >140</text>
<text x="231.60" y="279.00" font-family="'Liberation Sans', sans-serif" font-size="7.5" font-weight="bold" text-anchor="middle" fill="#000" >30</text>
<text x="249.22" y="279.00" font-family="'Liberation Sans', sans-serif" font-size="7.5" font-weight="bold" text-anchor="middle" fill="#000" >32</text>
<text x="266.84" y="279.00" font-family="'Liberation Sans', sans-serif" font-size="7.5" font-weight="bold" text-anchor="middle" fill="#000" >34</text>
<text x="284.46" y="279.00" font-family="'Liberation Sans', sans-serif" font-size="7.5" font-weight="bold" text-anchor="middle" fill="#000" >36</text>
<text x="302.08" y="279.00" font-family="'Liberation Sans', sans-serif" font-size="7.5" font-weight="bold" text-anchor="middle" fill="#000" >38</text>
<text x="319.70" y="279.00" font-family="'Liberation Sans', sans-serif" font-size="7.5" font-weight="bold" text-anchor="middle" fill="#000" >40</text>
<text x="337.32" y="279.00" font-family="'Liberation Sans', sans-serif" font-size="7.5" font-weight="bold" text-anchor="middle" fill="#000" >42</text>
<text x="354.94" y="279.00" font-family="'Liberation Sans', sans-serif" font-size="7.5" font-weight="bold" text-anchor="middle" fill="#000" >44</text>
<text x="291.10" y="291.80" font-family="'Liberation Sans', sans-serif" font-size="7.5" font-weight="bold" text-anchor="middle" fill="#000"  textLength="68.8" lengthAdjust="spacingAndGlyphs">Fiber Position (mm)</text>
<text transform="translate(198.30,210.70) rotate(-90)" x="0" y="0" font-family="'Liberation Sans', sans-serif" font-size="7.3" font-weight="bold" text-anchor="middle" fill="#000" textLength="50.2" lengthAdjust="spacingAndGlyphs">Diameter (µm)</text>
<text x="224.60" y="263.10" font-family="'Liberation Serif', sans-serif" font-size="20.5" font-weight="bold" text-anchor="start" fill="#000" >E</text>
<path d="M386.60,173.90 L387.10,173.90 L387.60,173.90 L388.10,173.90 L388.60,173.90 L389.10,173.90 L389.60,173.90 L390.10,173.90 L390.60,173.90 L391.10,173.90 L391.60,173.90 L392.10,173.90 L392.60,173.90 L393.10,173.90 L393.60,173.90 L394.10,173.90 L394.60,173.90 L395.10,173.90 L395.60,173.90 L396.10,173.90 L396.60,173.90 L397.10,173.90 L397.60,173.90 L398.10,173.90 L398.60,173.90 L399.10,173.90 L399.60,173.90 L400.13,173.91 L400.77,173.96 L401.40,174.02 L402.00,174.09 L402.59,174.16 L403.17,174.24 L403.73,174.31 L404.27,174.38 L404.80,174.45 L405.31,174.51 L405.84,174.59 L406.49,174.72 L407.12,174.87 L407.74,175.02 L408.34,175.18 L408.93,175.35 L409.51,175.51 L410.07,175.68 L410.62,175.85 L411.17,176.01 L411.72,176.19 L412.35,176.43 L412.96,176.68 L413.57,176.94 L414.17,177.21 L414.75,177.49 L415.34,177.77 L415.91,178.07 L416.47,178.36 L417.03,178.66 L417.59,178.97 L418.24,179.39 L418.86,179.82 L419.46,180.25 L420.04,180.68 L420.61,181.10 L421.16,181.53 L421.69,181.94 L422.22,182.35 L422.73,182.75 L423.23,183.13 L423.78,183.59 L424.34,184.08 L424.88,184.56 L425.42,185.04 L425.94,185.51 L426.45,185.98 L426.96,186.43 L427.45,186.86 L427.94,187.28 L428.41,187.68 L428.91,188.10 L429.41,188.53 L429.91,188.96 L430.41,189.40 L430.91,189.83 L431.41,190.26 L431.91,190.69 L432.41,191.13 L432.91,191.57 L433.42,192.00 L433.92,192.45 L434.43,192.89 L434.93,193.33 L435.43,193.78 L435.93,194.22 L436.43,194.66 L436.93,195.09 L437.43,195.52 L437.92,195.95 L438.42,196.38 L438.92,196.82 L439.43,197.26 L439.93,197.70 L440.42,198.13 L440.92,198.56 L441.41,198.98 L441.90,199.39 L442.38,199.79 L442.86,200.18 L443.34,200.56 L443.86,201.00 L444.36,201.43 L444.86,201.84 L445.35,202.24 L445.82,202.61 L446.28,202.96 L446.73,203.28 L447.17,203.56 L447.58,203.81 L447.97,204.01 L448.44,204.31 L448.93,204.61 L449.40,204.88 L449.84,205.13 L450.27,205.34 L450.67,205.52 L451.04,205.65 L451.38,205.74 L451.68,205.79 L451.94,205.78 L452.31,205.86 L452.73,205.95 L453.14,206.03 L453.56,206.11 L453.97,206.18 L454.38,206.25 L454.79,206.30 L455.19,206.35 L455.60,206.39 L456.01,206.42 L456.45,206.47 L456.91,206.52 L457.36,206.56 L457.81,206.60 L458.26,206.64 L458.71,206.67 L459.15,206.69 L459.59,206.71 L460.02,206.72 L460.45,206.72 L460.91,206.74 L461.38,206.75 L461.85,206.76 L462.33,206.77 L462.82,206.79 L463.31,206.80 L463.81,206.82 L464.32,206.84 L464.83,206.86 L465.34,206.88 L465.81,206.89 L466.29,206.90 L466.78,206.91 L467.29,206.93 L467.80,206.95 L468.32,206.97 L468.86,207.00 L469.40,207.04 L469.96,207.09 L470.52,207.14 L471.33,207.32 L472.10,207.52 L472.82,207.73 L473.51,207.96 L474.17,208.19 L474.79,208.42 L475.39,208.65 L475.97,208.88 L476.52,209.09 L477.05,209.30 L477.85,209.75 L478.58,210.20 L479.26,210.66 L479.90,211.11 L480.50,211.55 L481.08,211.99 L481.63,212.41 L482.16,212.81 L482.67,213.19 L483.17,213.55 L483.75,214.04 L484.34,214.57 L484.91,215.09 L485.46,215.60 L485.99,216.11 L486.51,216.59 L487.01,217.07 L487.50,217.52 L487.98,217.94 L488.45,218.34 L488.94,218.76 L489.43,219.19 L489.93,219.63 L490.43,220.07 L490.93,220.51 L491.44,220.95 L491.94,221.40 L492.45,221.85 L492.95,222.31 L493.46,222.77 L493.98,223.24 L494.49,223.72 L495.00,224.19 L495.51,224.66 L496.01,225.13 L496.50,225.59 L497.00,226.03 L497.48,226.47 L497.97,226.90 L498.45,227.31 L498.92,227.72 L499.41,228.12 L499.90,228.53 L500.39,228.95 L500.89,229.37 L501.39,229.80 L501.90,230.24 L502.41,230.69 L502.93,231.16 L503.45,231.63 L503.98,232.12 L504.49,232.60 L505.01,233.08 L505.51,233.56 L506.02,234.03 L506.52,234.49 L507.01,234.95 L507.50,235.40 L507.99,235.83 L508.47,236.26 L509.00,236.76 L509.52,237.25 L510.02,237.73 L510.51,238.18 L511.00,238.62 L511.47,239.02 L511.92,239.39 L512.36,239.73 L512.78,240.02 L513.18,240.26 L513.66,240.60 L514.14,240.95 L514.61,241.27 L515.07,241.56 L515.50,241.81 L515.90,242.02 L516.28,242.19 L516.62,242.30 L516.92,242.35 L517.16,242.35 L517.56,242.46 L517.99,242.59 L518.41,242.70 L518.82,242.80 L519.22,242.88 L519.60,242.94 L519.96,242.98 L520.31,243.01 L520.64,243.01 L520.96,243.00 L521.37,243.03 L521.85,243.08 L522.31,243.13 L522.76,243.16 L523.19,243.18 L523.60,243.19 L524.00,243.19 L524.37,243.17 L524.73,243.14 L525.10,243.10 L525.60,243.10 L526.10,243.10 L526.60,243.10 L527.10,243.10 L527.60,243.10 L528.10,243.10 L528.60,243.10 L529.10,243.10 L529.60,243.10 L530.10,243.10 L530.60,243.10 L531.10,243.10 L531.60,243.10 L532.10,243.10 L532.60,243.10 L533.10,243.10 L533.60,243.10 L534.10,243.10 L534.60,243.10 L535.10,243.10 L535.10,255.70 L534.60,255.70 L534.10,255.70 L533.60,255.70 L533.10,255.70 L532.60,255.70 L532.10,255.70 L531.60,255.70 L531.10,255.70 L530.60,255.70 L530.10,255.70 L529.60,255.70 L529.10,255.70 L528.60,255.70 L528.10,255.70 L527.60,255.70 L527.10,255.70 L526.60,255.70 L526.10,255.70 L525.60,255.70 L525.10,255.70 L524.47,255.66 L523.83,255.59 L523.20,255.52 L522.60,255.44 L522.01,255.36 L521.44,255.28 L520.89,255.20 L520.35,255.12 L519.83,255.05 L519.24,254.94 L518.56,254.77 L517.89,254.58 L517.24,254.38 L516.60,254.17 L515.98,253.96 L515.38,253.73 L514.79,253.51 L514.21,253.28 L513.64,253.04 L513.04,252.77 L512.28,252.34 L511.58,251.90 L510.92,251.46 L510.30,251.02 L509.70,250.59 L509.13,250.17 L508.59,249.76 L508.06,249.36 L507.54,248.98 L507.02,248.59 L506.42,248.07 L505.84,247.55 L505.28,247.03 L504.73,246.52 L504.20,246.01 L503.69,245.52 L503.18,245.05 L502.68,244.59 L502.20,244.15 L501.73,243.74 L501.21,243.26 L500.70,242.78 L500.19,242.30 L499.68,241.83 L499.18,241.36 L498.69,240.90 L498.19,240.45 L497.71,240.01 L497.22,239.58 L496.75,239.17 L496.27,238.76 L495.79,238.35 L495.30,237.94 L494.81,237.53 L494.31,237.11 L493.81,236.68 L493.30,236.25 L492.79,235.80 L492.28,235.34 L491.75,234.87 L491.23,234.39 L490.72,233.91 L490.20,233.43 L489.70,232.96 L489.19,232.49 L488.69,232.03 L488.20,231.58 L487.71,231.13 L487.22,230.70 L486.74,230.27 L486.25,229.84 L485.75,229.41 L485.26,228.97 L484.76,228.54 L484.27,228.10 L483.77,227.67 L483.27,227.23 L482.77,226.79 L482.26,226.35 L481.75,225.89 L481.22,225.38 L480.70,224.89 L480.19,224.41 L479.69,223.96 L479.21,223.53 L478.74,223.13 L478.29,222.76 L477.86,222.44 L477.45,222.16 L477.03,221.90 L476.53,221.52 L476.04,221.17 L475.57,220.85 L475.12,220.56 L474.70,220.32 L474.30,220.12 L473.94,219.97 L473.62,219.88 L473.35,219.86 L473.15,219.90 L472.68,219.74 L472.23,219.60 L471.81,219.49 L471.41,219.40 L471.03,219.34 L470.69,219.30 L470.38,219.30 L470.10,219.32 L469.87,219.38 L469.68,219.46 L469.24,219.45 L468.80,219.44 L468.34,219.44 L467.88,219.43 L467.40,219.42 L466.91,219.41 L466.42,219.39 L465.91,219.38 L465.39,219.35 L464.86,219.33 L464.37,219.31 L463.88,219.30 L463.39,219.28 L462.89,219.26 L462.38,219.25 L461.87,219.22 L461.35,219.20 L460.82,219.17 L460.29,219.13 L459.75,219.09 L459.18,219.03 L458.61,218.97 L458.05,218.90 L457.49,218.83 L456.94,218.75 L456.39,218.67 L455.84,218.59 L455.29,218.51 L454.75,218.42 L454.19,218.32 L453.60,218.19 L453.01,218.05 L452.41,217.90 L451.82,217.75 L451.23,217.58 L450.64,217.40 L450.06,217.21 L449.47,217.01 L448.89,216.80 L448.26,216.55 L447.52,216.17 L446.82,215.79 L446.16,215.40 L445.53,215.02 L444.93,214.63 L444.36,214.26 L443.80,213.90 L443.27,213.54 L442.76,213.21 L442.23,212.86 L441.62,212.39 L441.03,211.92 L440.47,211.45 L439.92,210.99 L439.38,210.54 L438.85,210.09 L438.34,209.65 L437.84,209.23 L437.34,208.83 L436.86,208.44 L436.34,208.00 L435.82,207.55 L435.30,207.10 L434.79,206.65 L434.28,206.20 L433.78,205.76 L433.27,205.32 L432.77,204.88 L432.28,204.45 L431.78,204.02 L431.28,203.58 L430.77,203.13 L430.27,202.69 L429.77,202.25 L429.27,201.81 L428.77,201.37 L428.27,200.94 L427.77,200.50 L427.28,200.08 L426.78,199.65 L426.29,199.22 L425.79,198.79 L425.29,198.36 L424.79,197.93 L424.29,197.50 L423.79,197.08 L423.29,196.65 L422.79,196.22 L422.29,195.78 L421.79,195.34 L421.26,194.87 L420.75,194.41 L420.24,193.95 L419.75,193.51 L419.26,193.09 L418.78,192.69 L418.32,192.31 L417.86,191.95 L417.42,191.63 L416.97,191.32 L416.47,190.94 L415.98,190.57 L415.51,190.23 L415.04,189.90 L414.59,189.61 L414.16,189.34 L413.74,189.11 L413.34,188.91 L412.96,188.75 L412.61,188.63 L412.17,188.43 L411.73,188.24 L411.29,188.07 L410.86,187.91 L410.45,187.76 L410.03,187.63 L409.63,187.51 L409.24,187.42 L408.85,187.33 L408.48,187.27 L408.03,187.16 L407.58,187.05 L407.13,186.95 L406.69,186.86 L406.27,186.79 L405.86,186.73 L405.46,186.68 L405.08,186.65 L404.71,186.64 L404.36,186.64 L403.89,186.59 L403.40,186.54 L402.93,186.49 L402.47,186.46 L402.03,186.43 L401.61,186.42 L401.20,186.42 L400.80,186.43 L400.43,186.45 L400.07,186.49 L399.60,186.50 L399.10,186.50 L398.60,186.50 L398.10,186.50 L397.60,186.50 L397.10,186.50 L396.60,186.50 L396.10,186.50 L395.60,186.50 L395.10,186.50 L394.60,186.50 L394.10,186.50 L393.60,186.50 L393.10,186.50 L392.60,186.50 L392.10,186.50 L391.60,186.50 L391.10,186.50 L390.60,186.50 L390.10,186.50 L389.60,186.50 L389.10,186.50 L388.60,186.50 L388.10,186.50 L387.60,186.50 L387.10,186.50 L386.60,186.50 Z" fill="#c9c9c9"/>
<path d="M386.60,174.50 L387.10,174.50 L387.60,174.50 L388.10,174.50 L388.60,174.50 L389.10,174.50 L389.60,174.50 L390.10,174.50 L390.60,174.50 L391.10,174.50 L391.60,174.50 L392.10,174.50 L392.60,174.50 L393.10,174.50 L393.60,174.50 L394.10,174.50 L394.60,174.50 L395.10,174.50 L395.60,174.50 L396.10,174.50 L396.60,174.50 L397.10,174.50 L397.60,174.50 L398.10,174.50 L398.60,174.50 L399.10,174.50 L399.60,174.50 L400.13,174.51 L400.76,174.56 L401.37,174.62 L401.96,174.68 L402.55,174.75 L403.11,174.82 L403.67,174.89 L404.20,174.96 L404.73,175.03 L405.24,175.09 L405.77,175.16 L406.40,175.29 L407.02,175.43 L407.63,175.58 L408.22,175.73 L408.80,175.89 L409.37,176.05 L409.93,176.22 L410.48,176.38 L411.02,176.54 L411.56,176.72 L412.18,176.95 L412.79,177.19 L413.38,177.45 L413.97,177.71 L414.55,177.98 L415.12,178.26 L415.69,178.54 L416.25,178.83 L416.80,179.13 L417.35,179.43 L417.99,179.84 L418.60,180.25 L419.19,180.67 L419.76,181.09 L420.32,181.51 L420.87,181.92 L421.40,182.34 L421.92,182.74 L422.43,183.14 L422.93,183.52 L423.48,183.98 L424.03,184.45 L424.57,184.93 L425.10,185.40 L425.62,185.87 L426.13,186.33 L426.64,186.79 L427.13,187.22 L427.62,187.65 L428.10,188.05 L428.59,188.47 L429.09,188.90 L429.59,189.33 L430.09,189.76 L430.59,190.19 L431.09,190.63 L431.59,191.06 L432.10,191.49 L432.60,191.93 L433.10,192.37 L433.61,192.81 L434.11,193.25 L434.61,193.70 L435.12,194.14 L435.62,194.58 L436.12,195.02 L436.61,195.45 L437.11,195.89 L437.61,196.31 L438.10,196.74 L438.61,197.18 L439.11,197.63 L439.61,198.06 L440.11,198.49 L440.60,198.92 L441.09,199.34 L441.58,199.75 L442.07,200.16 L442.55,200.55 L443.03,200.93 L443.55,201.37 L444.05,201.80 L444.55,202.21 L445.04,202.61 L445.52,202.99 L445.98,203.34 L446.43,203.67 L446.87,203.96 L447.29,204.22 L447.70,204.44 L448.17,204.73 L448.66,205.03 L449.13,205.31 L449.58,205.56 L450.01,205.78 L450.43,205.97 L450.81,206.12 L451.17,206.22 L451.49,206.28 L451.76,206.29 L452.15,206.38 L452.57,206.48 L453.00,206.57 L453.42,206.65 L453.84,206.73 L454.25,206.79 L454.67,206.85 L455.09,206.91 L455.51,206.95 L455.92,206.99 L456.37,207.04 L456.83,207.09 L457.29,207.14 L457.75,207.18 L458.20,207.21 L458.65,207.25 L459.10,207.27 L459.54,207.29 L459.98,207.30 L460.42,207.31 L460.88,207.33 L461.35,207.34 L461.83,207.35 L462.31,207.36 L462.80,207.38 L463.29,207.39 L463.79,207.41 L464.30,207.43 L464.81,207.45 L465.32,207.47 L465.79,207.48 L466.27,207.49 L466.77,207.51 L467.27,207.52 L467.78,207.54 L468.30,207.57 L468.83,207.60 L469.37,207.63 L469.92,207.68 L470.48,207.73 L471.26,207.89 L472.00,208.08 L472.70,208.28 L473.38,208.50 L474.02,208.72 L474.63,208.95 L475.22,209.17 L475.79,209.39 L476.33,209.60 L476.86,209.80 L477.63,210.23 L478.34,210.66 L479.01,211.10 L479.63,211.54 L480.23,211.97 L480.80,212.39 L481.34,212.81 L481.87,213.21 L482.38,213.59 L482.88,213.95 L483.45,214.43 L484.03,214.94 L484.59,215.45 L485.14,215.96 L485.67,216.46 L486.18,216.95 L486.69,217.42 L487.18,217.87 L487.66,218.30 L488.13,218.70 L488.62,219.12 L489.12,219.56 L489.61,219.99 L490.12,220.43 L490.62,220.87 L491.12,221.32 L491.62,221.76 L492.13,222.21 L492.63,222.67 L493.14,223.13 L493.66,223.60 L494.17,224.07 L494.68,224.55 L495.18,225.01 L495.68,225.48 L496.18,225.94 L496.67,226.39 L497.16,226.83 L497.65,227.25 L498.13,227.67 L498.61,228.08 L499.09,228.49 L499.58,228.90 L500.08,229.32 L500.57,229.74 L501.08,230.17 L501.58,230.61 L502.10,231.06 L502.61,231.52 L503.13,231.99 L503.65,232.47 L504.17,232.95 L504.68,233.43 L505.19,233.91 L505.69,234.38 L506.19,234.84 L506.69,235.30 L507.18,235.75 L507.67,236.19 L508.15,236.62 L508.68,237.11 L509.19,237.60 L509.69,238.07 L510.19,238.53 L510.67,238.97 L511.14,239.38 L511.60,239.76 L512.05,240.10 L512.48,240.40 L512.88,240.66 L513.36,241.00 L513.85,241.35 L514.33,241.67 L514.78,241.97 L515.22,242.23 L515.63,242.45 L516.02,242.63 L516.38,242.75 L516.70,242.83 L516.97,242.85 L517.37,242.96 L517.81,243.09 L518.24,243.21 L518.66,243.32 L519.06,243.40 L519.45,243.47 L519.83,243.53 L520.20,243.56 L520.54,243.57 L520.87,243.57 L521.30,243.60 L521.78,243.66 L522.24,243.70 L522.70,243.74 L523.13,243.76 L523.55,243.77 L523.96,243.77 L524.35,243.76 L524.72,243.73 L525.10,243.70 L525.60,243.70 L526.10,243.70 L526.60,243.70 L527.10,243.70 L527.60,243.70 L528.10,243.70 L528.60,243.70 L529.10,243.70 L529.60,243.70 L530.10,243.70 L530.60,243.70 L531.10,243.70 L531.60,243.70 L532.10,243.70 L532.60,243.70 L533.10,243.70 L533.60,243.70 L534.10,243.70 L534.60,243.70 L535.10,243.70 L535.10,252.70 L534.60,252.70 L534.10,252.70 L533.60,252.70 L533.10,252.70 L532.60,252.70 L532.10,252.70 L531.60,252.70 L531.10,252.70 L530.60,252.70 L530.10,252.70 L529.60,252.70 L529.10,252.70 L528.60,252.70 L528.10,252.70 L527.60,252.70 L527.10,252.70 L526.60,252.70 L526.10,252.70 L525.60,252.70 L525.10,252.70 L524.53,252.67 L523.96,252.63 L523.39,252.58 L522.84,252.52 L522.29,252.46 L521.75,252.39 L521.23,252.32 L520.71,252.26 L520.20,252.19 L519.65,252.10 L519.05,251.97 L518.47,251.83 L517.89,251.67 L517.32,251.50 L516.75,251.32 L516.20,251.13 L515.65,250.93 L515.11,250.73 L514.57,250.52 L514.02,250.29 L513.39,249.96 L512.78,249.61 L512.20,249.25 L511.63,248.88 L511.08,248.50 L510.55,248.12 L510.02,247.74 L509.51,247.36 L509.00,246.99 L508.49,246.61 L507.93,246.15 L507.39,245.68 L506.86,245.21 L506.34,244.73 L505.82,244.25 L505.31,243.77 L504.81,243.30 L504.31,242.84 L503.82,242.39 L503.33,241.96 L502.83,241.49 L502.32,241.02 L501.81,240.55 L501.31,240.08 L500.81,239.61 L500.31,239.15 L499.82,238.69 L499.32,238.24 L498.83,237.80 L498.34,237.37 L497.86,236.95 L497.36,236.53 L496.87,236.11 L496.38,235.69 L495.88,235.27 L495.38,234.84 L494.87,234.41 L494.37,233.97 L493.86,233.52 L493.35,233.07 L492.84,232.60 L492.33,232.14 L491.82,231.67 L491.32,231.20 L490.82,230.74 L490.32,230.28 L489.82,229.82 L489.32,229.37 L488.83,228.92 L488.34,228.49 L487.84,228.05 L487.35,227.61 L486.85,227.17 L486.35,226.73 L485.85,226.30 L485.35,225.86 L484.85,225.42 L484.35,224.98 L483.85,224.54 L483.35,224.09 L482.83,223.61 L482.32,223.13 L481.81,222.66 L481.32,222.20 L480.82,221.76 L480.34,221.33 L479.87,220.93 L479.40,220.56 L478.95,220.23 L478.49,219.91 L477.99,219.54 L477.50,219.18 L477.01,218.84 L476.54,218.52 L476.08,218.23 L475.63,217.97 L475.21,217.75 L474.80,217.58 L474.42,217.45 L474.08,217.38 L473.60,217.21 L473.12,217.05 L472.66,216.91 L472.21,216.79 L471.78,216.68 L471.36,216.60 L470.96,216.54 L470.58,216.51 L470.22,216.51 L469.88,216.53 L469.41,216.51 L468.94,216.49 L468.46,216.48 L467.98,216.46 L467.50,216.45 L467.00,216.44 L466.50,216.42 L466.00,216.41 L465.49,216.39 L464.97,216.36 L464.48,216.35 L463.99,216.33 L463.49,216.31 L462.99,216.30 L462.49,216.28 L461.98,216.26 L461.47,216.23 L460.95,216.21 L460.44,216.18 L459.92,216.14 L459.38,216.10 L458.85,216.05 L458.31,215.99 L457.78,215.93 L457.25,215.87 L456.73,215.80 L456.20,215.73 L455.68,215.65 L455.16,215.57 L454.62,215.48 L454.08,215.38 L453.53,215.27 L452.98,215.14 L452.43,215.01 L451.88,214.87 L451.34,214.71 L450.79,214.55 L450.25,214.38 L449.70,214.20 L449.14,213.99 L448.51,213.70 L447.90,213.40 L447.32,213.08 L446.75,212.75 L446.20,212.42 L445.66,212.09 L445.14,211.75 L444.62,211.41 L444.11,211.09 L443.60,210.75 L443.04,210.35 L442.49,209.93 L441.96,209.51 L441.43,209.08 L440.91,208.65 L440.40,208.22 L439.89,207.79 L439.39,207.37 L438.89,206.96 L438.41,206.57 L437.89,206.13 L437.38,205.70 L436.87,205.26 L436.37,204.82 L435.86,204.38 L435.36,203.94 L434.86,203.50 L434.36,203.07 L433.86,202.63 L433.36,202.20 L432.86,201.76 L432.36,201.32 L431.85,200.88 L431.35,200.44 L430.85,200.00 L430.35,199.56 L429.85,199.13 L429.36,198.69 L428.86,198.26 L428.36,197.83 L427.86,197.40 L427.37,196.97 L426.87,196.54 L426.37,196.11 L425.87,195.68 L425.37,195.25 L424.87,194.82 L424.37,194.39 L423.87,193.96 L423.36,193.52 L422.85,193.06 L422.34,192.61 L421.84,192.16 L421.34,191.72 L420.85,191.28 L420.36,190.87 L419.88,190.46 L419.40,190.08 L418.93,189.72 L418.46,189.37 L417.96,188.99 L417.47,188.61 L416.98,188.25 L416.50,187.91 L416.02,187.58 L415.56,187.28 L415.10,187.00 L414.65,186.74 L414.22,186.52 L413.80,186.33 L413.33,186.11 L412.86,185.89 L412.39,185.69 L411.93,185.49 L411.47,185.32 L411.02,185.15 L410.57,185.00 L410.12,184.86 L409.69,184.74 L409.25,184.63 L408.78,184.51 L408.30,184.38 L407.83,184.27 L407.36,184.16 L406.90,184.06 L406.45,183.98 L406.00,183.91 L405.57,183.85 L405.13,183.80 L404.71,183.77 L404.23,183.72 L403.74,183.66 L403.25,183.61 L402.77,183.57 L402.30,183.53 L401.84,183.50 L401.39,183.48 L400.94,183.48 L400.51,183.48 L400.08,183.50 L399.60,183.50 L399.10,183.50 L398.60,183.50 L398.10,183.50 L397.60,183.50 L397.10,183.50 L396.60,183.50 L396.10,183.50 L395.60,183.50 L395.10,183.50 L394.60,183.50 L394.10,183.50 L393.60,183.50 L393.10,183.50 L392.60,183.50 L392.10,183.50 L391.60,183.50 L391.10,183.50 L390.60,183.50 L390.10,183.50 L389.60,183.50 L389.10,183.50 L388.60,183.50 L388.10,183.50 L387.60,183.50 L387.10,183.50 L386.60,183.50 Z" fill="#e2e2e2"/>
<path d="M386.60,176.90 L387.10,176.90 L387.60,176.90 L388.10,176.90 L388.60,176.90 L389.10,176.90 L389.60,176.90 L390.10,176.90 L390.60,176.90 L391.10,176.90 L391.60,176.90 L392.10,176.90 L392.60,176.90 L393.10,176.90 L393.60,176.90 L394.10,176.90 L394.60,176.90 L395.10,176.90 L395.60,176.90 L396.10,176.90 L396.60,176.90 L397.10,176.90 L397.60,176.90 L398.10,176.90 L398.60,176.90 L399.10,176.90 L399.60,176.90 L400.12,176.91 L400.69,176.95 L401.25,176.99 L401.81,177.05 L402.36,177.11 L402.89,177.17 L403.42,177.24 L403.95,177.30 L404.46,177.37 L404.97,177.43 L405.48,177.50 L406.06,177.61 L406.62,177.73 L407.18,177.86 L407.73,178.00 L408.28,178.14 L408.82,178.29 L409.35,178.44 L409.88,178.60 L410.40,178.75 L410.92,178.92 L411.48,179.12 L412.04,179.34 L412.59,179.57 L413.14,179.81 L413.68,180.05 L414.22,180.31 L414.75,180.57 L415.28,180.84 L415.81,181.12 L416.33,181.40 L416.90,181.76 L417.46,182.13 L418.00,182.51 L418.54,182.89 L419.07,183.28 L419.59,183.68 L420.10,184.07 L420.61,184.47 L421.12,184.86 L421.62,185.24 L422.14,185.67 L422.66,186.12 L423.18,186.57 L423.70,187.02 L424.21,187.48 L424.71,187.93 L425.21,188.38 L425.71,188.82 L426.20,189.25 L426.69,189.67 L427.19,190.10 L427.69,190.53 L428.19,190.96 L428.69,191.39 L429.19,191.82 L429.69,192.25 L430.19,192.68 L430.69,193.12 L431.19,193.55 L431.70,193.99 L432.20,194.43 L432.70,194.87 L433.20,195.31 L433.70,195.75 L434.20,196.19 L434.70,196.63 L435.20,197.06 L435.70,197.50 L436.20,197.93 L436.70,198.36 L437.20,198.80 L437.70,199.24 L438.20,199.68 L438.70,200.11 L439.20,200.54 L439.69,200.97 L440.19,201.38 L440.68,201.80 L441.17,202.20 L441.66,202.60 L442.17,203.03 L442.67,203.45 L443.17,203.87 L443.67,204.27 L444.16,204.66 L444.64,205.03 L445.12,205.39 L445.59,205.71 L446.05,206.01 L446.51,206.27 L446.99,206.57 L447.49,206.88 L447.97,207.17 L448.45,207.45 L448.92,207.70 L449.37,207.92 L449.81,208.11 L450.24,208.26 L450.65,208.37 L451.03,208.45 L451.47,208.56 L451.93,208.67 L452.38,208.78 L452.84,208.88 L453.30,208.97 L453.75,209.05 L454.21,209.13 L454.66,209.20 L455.11,209.25 L455.57,209.30 L456.04,209.36 L456.52,209.42 L456.99,209.47 L457.47,209.52 L457.94,209.56 L458.42,209.60 L458.88,209.63 L459.35,209.65 L459.82,209.67 L460.28,209.69 L460.76,209.70 L461.25,209.72 L461.73,209.73 L462.22,209.75 L462.71,209.76 L463.21,209.78 L463.71,209.80 L464.21,209.81 L464.72,209.84 L465.22,209.86 L465.71,209.87 L466.20,209.88 L466.70,209.89 L467.20,209.91 L467.70,209.93 L468.22,209.95 L468.73,209.98 L469.26,210.01 L469.79,210.05 L470.32,210.10 L470.98,210.23 L471.61,210.38 L472.23,210.55 L472.82,210.74 L473.40,210.93 L473.96,211.13 L474.51,211.33 L475.04,211.53 L475.57,211.73 L476.08,211.93 L476.72,212.28 L477.33,212.64 L477.91,213.02 L478.47,213.40 L479.02,213.79 L479.55,214.18 L480.08,214.57 L480.59,214.96 L481.09,215.33 L481.59,215.70 L482.13,216.14 L482.66,216.60 L483.19,217.08 L483.71,217.56 L484.23,218.04 L484.73,218.51 L485.23,218.98 L485.73,219.44 L486.22,219.88 L486.71,220.30 L487.20,220.73 L487.70,221.17 L488.20,221.60 L488.70,222.04 L489.20,222.48 L489.70,222.92 L490.21,223.37 L490.71,223.82 L491.21,224.27 L491.71,224.72 L492.22,225.18 L492.73,225.65 L493.23,226.12 L493.73,226.58 L494.23,227.05 L494.73,227.51 L495.23,227.96 L495.72,228.41 L496.22,228.84 L496.71,229.27 L497.20,229.69 L497.69,230.11 L498.19,230.53 L498.68,230.95 L499.18,231.38 L499.68,231.81 L500.19,232.24 L500.69,232.68 L501.20,233.13 L501.71,233.59 L502.22,234.06 L502.73,234.53 L503.23,235.00 L503.73,235.47 L504.24,235.94 L504.74,236.40 L505.23,236.86 L505.73,237.32 L506.22,237.77 L506.72,238.20 L507.23,238.68 L507.74,239.16 L508.24,239.63 L508.74,240.09 L509.23,240.54 L509.72,240.97 L510.20,241.37 L510.67,241.75 L511.14,242.10 L511.60,242.40 L512.09,242.75 L512.58,243.11 L513.07,243.45 L513.55,243.76 L514.02,244.05 L514.48,244.31 L514.92,244.54 L515.35,244.72 L515.76,244.86 L516.14,244.94 L516.59,245.08 L517.05,245.23 L517.52,245.37 L517.97,245.50 L518.42,245.60 L518.86,245.70 L519.30,245.77 L519.72,245.83 L520.14,245.87 L520.54,245.89 L521.00,245.93 L521.49,245.99 L521.97,246.04 L522.44,246.08 L522.91,246.11 L523.36,246.13 L523.81,246.14 L524.24,246.14 L524.67,246.12 L525.10,246.10 L525.60,246.10 L526.10,246.10 L526.60,246.10 L527.10,246.10 L527.60,246.10 L528.10,246.10 L528.60,246.10 L529.10,246.10 L529.60,246.10 L530.10,246.10 L530.60,246.10 L531.10,246.10 L531.60,246.10 L532.10,246.10 L532.60,246.10 L533.10,246.10 L533.60,246.10 L534.10,246.10 L534.60,246.10 L535.10,246.10 L535.10,252.30 L534.60,252.30 L534.10,252.30 L533.60,252.30 L533.10,252.30 L532.60,252.30 L532.10,252.30 L531.60,252.30 L531.10,252.30 L530.60,252.30 L530.10,252.30 L529.60,252.30 L529.10,252.30 L528.60,252.30 L528.10,252.30 L527.60,252.30 L527.10,252.30 L526.60,252.30 L526.10,252.30 L525.60,252.30 L525.10,252.30 L524.54,252.27 L523.98,252.23 L523.42,252.17 L522.87,252.11 L522.33,252.05 L521.80,251.98 L521.28,251.91 L520.76,251.84 L520.25,251.77 L519.71,251.68 L519.13,251.55 L518.55,251.40 L517.99,251.24 L517.43,251.07 L516.88,250.89 L516.33,250.70 L515.80,250.50 L515.26,250.30 L514.73,250.09 L514.19,249.86 L513.58,249.53 L513.00,249.19 L512.44,248.83 L511.89,248.46 L511.35,248.09 L510.83,247.71 L510.31,247.33 L509.80,246.95 L509.29,246.58 L508.79,246.20 L508.25,245.75 L507.72,245.29 L507.20,244.82 L506.68,244.35 L506.17,243.87 L505.66,243.40 L505.16,242.93 L504.66,242.46 L504.17,242.01 L503.68,241.58 L503.17,241.11 L502.67,240.64 L502.16,240.17 L501.66,239.70 L501.16,239.24 L500.66,238.77 L500.17,238.32 L499.67,237.86 L499.18,237.42 L498.68,236.99 L498.19,236.56 L497.70,236.14 L497.20,235.72 L496.71,235.30 L496.21,234.88 L495.71,234.45 L495.21,234.02 L494.70,233.58 L494.20,233.14 L493.69,232.68 L493.18,232.22 L492.67,231.76 L492.17,231.29 L491.67,230.82 L491.17,230.36 L490.67,229.90 L490.17,229.44 L489.67,228.99 L489.18,228.54 L488.68,228.10 L488.18,227.66 L487.69,227.22 L487.19,226.79 L486.69,226.35 L486.19,225.91 L485.69,225.47 L485.19,225.04 L484.69,224.60 L484.19,224.15 L483.69,223.71 L483.17,223.23 L482.67,222.76 L482.16,222.29 L481.67,221.83 L481.17,221.38 L480.68,220.95 L480.20,220.55 L479.72,220.17 L479.26,219.83 L478.79,219.51 L478.29,219.14 L477.79,218.78 L477.30,218.43 L476.82,218.11 L476.35,217.82 L475.89,217.56 L475.45,217.33 L475.02,217.15 L474.61,217.02 L474.24,216.95 L473.75,216.78 L473.27,216.62 L472.80,216.48 L472.35,216.36 L471.90,216.25 L471.47,216.17 L471.05,216.12 L470.65,216.09 L470.27,216.09 L469.91,216.11 L469.44,216.10 L468.96,216.08 L468.48,216.07 L468.00,216.06 L467.51,216.04 L467.01,216.03 L466.52,216.02 L466.01,216.00 L465.50,215.98 L464.99,215.96 L464.49,215.94 L464.00,215.92 L463.50,215.91 L463.00,215.89 L462.50,215.87 L461.99,215.85 L461.48,215.83 L460.97,215.80 L460.46,215.77 L459.94,215.74 L459.41,215.69 L458.88,215.64 L458.35,215.58 L457.82,215.52 L457.30,215.45 L456.78,215.38 L456.25,215.31 L455.73,215.23 L455.22,215.15 L454.69,215.06 L454.15,214.96 L453.61,214.84 L453.07,214.72 L452.53,214.58 L451.99,214.44 L451.45,214.28 L450.91,214.12 L450.37,213.95 L449.84,213.76 L449.28,213.56 L448.68,213.27 L448.10,212.97 L447.53,212.66 L446.98,212.33 L446.44,212.00 L445.91,211.67 L445.39,211.33 L444.88,211.00 L444.37,210.67 L443.86,210.34 L443.32,209.94 L442.79,209.53 L442.27,209.11 L441.75,208.68 L441.23,208.26 L440.72,207.83 L440.22,207.40 L439.72,206.98 L439.22,206.57 L438.73,206.17 L438.22,205.74 L437.71,205.31 L437.21,204.87 L436.70,204.43 L436.20,204.00 L435.70,203.56 L435.19,203.12 L434.69,202.68 L434.20,202.25 L433.70,201.82 L433.20,201.38 L432.69,200.94 L432.19,200.50 L431.69,200.06 L431.19,199.62 L430.69,199.18 L430.19,198.74 L429.69,198.31 L429.20,197.87 L428.70,197.44 L428.20,197.01 L427.70,196.58 L427.20,196.15 L426.70,195.72 L426.20,195.29 L425.70,194.86 L425.20,194.43 L424.70,194.00 L424.20,193.57 L423.70,193.13 L423.19,192.68 L422.69,192.23 L422.18,191.78 L421.68,191.33 L421.19,190.90 L420.70,190.48 L420.21,190.07 L419.73,189.69 L419.25,189.32 L418.77,188.97 L418.27,188.59 L417.77,188.21 L417.28,187.85 L416.79,187.51 L416.31,187.18 L415.84,186.87 L415.37,186.58 L414.91,186.33 L414.46,186.10 L414.02,185.91 L413.54,185.68 L413.06,185.46 L412.59,185.26 L412.12,185.07 L411.65,184.89 L411.19,184.72 L410.73,184.57 L410.27,184.43 L409.82,184.31 L409.38,184.20 L408.90,184.08 L408.42,183.95 L407.94,183.84 L407.47,183.73 L407.00,183.64 L406.54,183.55 L406.09,183.48 L405.64,183.42 L405.20,183.38 L404.76,183.35 L404.28,183.30 L403.78,183.24 L403.30,183.19 L402.82,183.15 L402.34,183.12 L401.87,183.09 L401.42,183.07 L400.96,183.07 L400.52,183.08 L400.09,183.09 L399.60,183.10 L399.10,183.10 L398.60,183.10 L398.10,183.10 L397.60,183.10 L397.10,183.10 L396.60,183.10 L396.10,183.10 L395.60,183.10 L395.10,183.10 L394.60,183.10 L394.10,183.10 L393.60,183.10 L393.10,183.10 L392.60,183.10 L392.10,183.10 L391.60,183.10 L391.10,183.10 L390.60,183.10 L390.10,183.10 L389.60,183.10 L389.10,183.10 L388.60,183.10 L388.10,183.10 L387.60,183.10 L387.10,183.10 L386.60,183.10 Z" fill="#ececec"/>
<path d="M386.60,177.90 L387.10,177.90 L387.60,177.90 L388.10,177.90 L388.60,177.90 L389.10,177.90 L389.60,177.90 L390.10,177.90 L390.60,177.90 L391.10,177.90 L391.60,177.90 L392.10,177.90 L392.60,177.90 L393.10,177.90 L393.60,177.90 L394.10,177.90 L394.60,177.90 L395.10,177.90 L395.60,177.90 L396.10,177.90 L396.60,177.90 L397.10,177.90 L397.60,177.90 L398.10,177.90 L398.60,177.90 L399.10,177.90 L399.60,177.90 L400.11,177.91 L400.66,177.94 L401.21,177.99 L401.74,178.04 L402.28,178.10 L402.80,178.16 L403.32,178.23 L403.84,178.29 L404.35,178.35 L404.85,178.42 L405.36,178.48 L405.91,178.59 L406.46,178.71 L406.99,178.83 L407.53,178.97 L408.06,179.11 L408.58,179.25 L409.10,179.40 L409.62,179.55 L410.13,179.70 L410.65,179.86 L411.18,180.06 L411.72,180.27 L412.25,180.49 L412.78,180.72 L413.30,180.96 L413.82,181.20 L414.34,181.46 L414.86,181.72 L415.37,181.99 L415.89,182.27 L416.42,182.61 L416.95,182.96 L417.48,183.32 L417.99,183.69 L418.51,184.07 L419.02,184.46 L419.52,184.85 L420.03,185.24 L420.53,185.62 L421.03,186.01 L421.54,186.42 L422.05,186.86 L422.56,187.30 L423.06,187.75 L423.57,188.20 L424.07,188.65 L424.57,189.10 L425.07,189.54 L425.57,189.98 L426.06,190.40 L426.56,190.83 L427.06,191.26 L427.56,191.69 L428.06,192.12 L428.56,192.55 L429.06,192.98 L429.56,193.41 L430.06,193.85 L430.56,194.28 L431.06,194.72 L431.56,195.15 L432.07,195.59 L432.57,196.03 L433.07,196.47 L433.57,196.91 L434.07,197.35 L434.57,197.79 L435.07,198.22 L435.57,198.66 L436.06,199.09 L436.57,199.53 L437.07,199.97 L437.57,200.40 L438.07,200.84 L438.56,201.27 L439.06,201.70 L439.56,202.12 L440.06,202.53 L440.55,202.94 L441.05,203.34 L441.55,203.77 L442.05,204.19 L442.55,204.61 L443.05,205.01 L443.55,205.41 L444.04,205.79 L444.53,206.15 L445.02,206.49 L445.50,206.80 L445.98,207.08 L446.47,207.39 L446.97,207.70 L447.46,208.00 L447.95,208.28 L448.43,208.54 L448.91,208.77 L449.38,208.98 L449.84,209.15 L450.28,209.28 L450.71,209.38 L451.17,209.49 L451.65,209.62 L452.12,209.73 L452.60,209.84 L453.07,209.93 L453.54,210.02 L454.01,210.10 L454.48,210.17 L454.95,210.23 L455.42,210.29 L455.90,210.34 L456.38,210.40 L456.87,210.45 L457.35,210.50 L457.84,210.55 L458.32,210.58 L458.80,210.62 L459.27,210.64 L459.75,210.67 L460.23,210.68 L460.71,210.70 L461.20,210.72 L461.69,210.73 L462.18,210.75 L462.68,210.76 L463.18,210.78 L463.68,210.79 L464.18,210.81 L464.68,210.83 L465.19,210.85 L465.68,210.87 L466.17,210.88 L466.67,210.89 L467.17,210.91 L467.67,210.93 L468.18,210.95 L468.69,210.97 L469.21,211.01 L469.73,211.05 L470.25,211.09 L470.86,211.22 L471.45,211.36 L472.02,211.52 L472.58,211.69 L473.13,211.88 L473.67,212.07 L474.20,212.26 L474.72,212.46 L475.23,212.66 L475.74,212.85 L476.33,213.17 L476.89,213.51 L477.43,213.86 L477.96,214.23 L478.48,214.60 L479.00,214.98 L479.51,215.36 L480.02,215.74 L480.52,216.11 L481.02,216.48 L481.53,216.90 L482.05,217.35 L482.56,217.81 L483.07,218.28 L483.58,218.75 L484.08,219.22 L484.58,219.69 L485.08,220.14 L485.57,220.59 L486.07,221.02 L486.57,221.45 L487.07,221.89 L487.57,222.33 L488.07,222.77 L488.57,223.21 L489.07,223.65 L489.57,224.09 L490.07,224.54 L490.57,224.98 L491.07,225.44 L491.57,225.90 L492.08,226.36 L492.58,226.82 L493.08,227.29 L493.58,227.75 L494.08,228.21 L494.58,228.67 L495.08,229.12 L495.57,229.56 L496.07,229.99 L496.57,230.42 L497.06,230.84 L497.56,231.27 L498.06,231.69 L498.56,232.11 L499.06,232.54 L499.56,232.97 L500.06,233.41 L500.57,233.86 L501.07,234.31 L501.57,234.77 L502.08,235.24 L502.58,235.71 L503.08,236.17 L503.58,236.64 L504.08,237.11 L504.58,237.57 L505.08,238.03 L505.58,238.48 L506.07,238.92 L506.58,239.39 L507.08,239.87 L507.58,240.34 L508.08,240.80 L508.58,241.25 L509.07,241.69 L509.56,242.10 L510.05,242.49 L510.54,242.86 L511.02,243.18 L511.52,243.54 L512.01,243.89 L512.51,244.24 L513.00,244.56 L513.48,244.86 L513.96,245.14 L514.43,245.38 L514.90,245.58 L515.34,245.74 L515.77,245.86 L516.25,246.00 L516.73,246.16 L517.20,246.30 L517.68,246.43 L518.14,246.55 L518.61,246.65 L519.07,246.73 L519.52,246.80 L519.96,246.85 L520.40,246.87 L520.87,246.92 L521.36,246.97 L521.85,247.03 L522.33,247.07 L522.81,247.10 L523.28,247.13 L523.74,247.14 L524.20,247.14 L524.65,247.12 L525.10,247.10 L525.60,247.10 L526.10,247.10 L526.60,247.10 L527.10,247.10 L527.60,247.10 L528.10,247.10 L528.60,247.10 L529.10,247.10 L529.60,247.10 L530.10,247.10 L530.60,247.10 L531.10,247.10 L531.60,247.10 L532.10,247.10 L532.60,247.10 L533.10,247.10 L533.60,247.10 L534.10,247.10 L534.60,247.10 L535.10,247.10 L535.10,251.70 L534.60,251.70 L534.10,251.70 L533.60,251.70 L533.10,251.70 L532.60,251.70 L532.10,251.70 L531.60,251.70 L531.10,251.70 L530.60,251.70 L530.10,251.70 L529.60,251.70 L529.10,251.70 L528.60,251.70 L528.10,251.70 L527.60,251.70 L527.10,251.70 L526.60,251.70 L526.10,251.70 L525.60,251.70 L525.10,251.70 L524.55,251.67 L524.00,251.62 L523.46,251.57 L522.92,251.51 L522.39,251.44 L521.87,251.37 L521.35,251.30 L520.84,251.23 L520.33,251.16 L519.80,251.07 L519.24,250.94 L518.68,250.79 L518.13,250.63 L517.59,250.46 L517.06,250.29 L516.52,250.10 L516.00,249.90 L515.47,249.70 L514.95,249.50 L514.43,249.27 L513.86,248.95 L513.30,248.61 L512.77,248.27 L512.24,247.91 L511.72,247.54 L511.20,247.17 L510.69,246.79 L510.19,246.42 L509.68,246.05 L509.18,245.67 L508.66,245.23 L508.15,244.78 L507.64,244.32 L507.13,243.85 L506.62,243.38 L506.12,242.91 L505.62,242.43 L505.12,241.97 L504.62,241.52 L504.13,241.08 L503.62,240.62 L503.12,240.15 L502.62,239.68 L502.12,239.21 L501.62,238.75 L501.12,238.28 L500.62,237.82 L500.12,237.37 L499.63,236.93 L499.13,236.49 L498.63,236.06 L498.14,235.64 L497.64,235.21 L497.14,234.79 L496.64,234.37 L496.14,233.94 L495.64,233.51 L495.14,233.08 L494.63,232.63 L494.13,232.18 L493.63,231.72 L493.12,231.26 L492.62,230.80 L492.12,230.33 L491.62,229.87 L491.12,229.40 L490.62,228.95 L490.12,228.49 L489.63,228.05 L489.13,227.60 L488.63,227.16 L488.13,226.72 L487.63,226.28 L487.13,225.85 L486.63,225.41 L486.13,224.97 L485.63,224.53 L485.13,224.09 L484.63,223.65 L484.13,223.20 L483.63,222.73 L483.12,222.26 L482.62,221.79 L482.12,221.33 L481.62,220.88 L481.13,220.45 L480.64,220.04 L480.15,219.66 L479.67,219.31 L479.18,218.98 L478.68,218.60 L478.18,218.24 L477.69,217.90 L477.20,217.57 L476.72,217.27 L476.24,217.00 L475.77,216.77 L475.31,216.58 L474.87,216.44 L474.46,216.35 L473.97,216.18 L473.48,216.02 L473.00,215.88 L472.53,215.75 L472.07,215.65 L471.62,215.57 L471.18,215.51 L470.75,215.48 L470.34,215.48 L469.95,215.51 L469.47,215.49 L468.99,215.48 L468.51,215.47 L468.02,215.45 L467.53,215.44 L467.03,215.43 L466.53,215.41 L466.03,215.40 L465.52,215.38 L465.01,215.35 L464.52,215.34 L464.02,215.32 L463.52,215.31 L463.02,215.29 L462.52,215.27 L462.02,215.25 L461.51,215.22 L461.00,215.20 L460.49,215.17 L459.97,215.13 L459.45,215.08 L458.93,215.03 L458.40,214.97 L457.88,214.91 L457.36,214.85 L456.85,214.78 L456.33,214.70 L455.82,214.62 L455.30,214.54 L454.78,214.46 L454.25,214.35 L453.72,214.23 L453.19,214.11 L452.66,213.97 L452.13,213.83 L451.60,213.68 L451.08,213.52 L450.55,213.34 L450.03,213.16 L449.49,212.96 L448.92,212.68 L448.36,212.38 L447.82,212.08 L447.29,211.76 L446.77,211.44 L446.25,211.11 L445.74,210.78 L445.23,210.45 L444.73,210.12 L444.22,209.79 L443.70,209.40 L443.18,208.99 L442.67,208.58 L442.16,208.16 L441.65,207.74 L441.15,207.32 L440.65,206.89 L440.15,206.47 L439.65,206.06 L439.15,205.66 L438.65,205.23 L438.14,204.80 L437.64,204.36 L437.14,203.93 L436.64,203.49 L436.13,203.05 L435.63,202.61 L435.13,202.18 L434.63,201.74 L434.14,201.31 L433.63,200.87 L433.13,200.43 L432.63,199.99 L432.13,199.55 L431.63,199.11 L431.13,198.68 L430.63,198.24 L430.13,197.80 L429.64,197.37 L429.14,196.94 L428.64,196.51 L428.14,196.07 L427.64,195.64 L427.14,195.21 L426.64,194.78 L426.14,194.35 L425.64,193.92 L425.14,193.49 L424.64,193.06 L424.14,192.63 L423.63,192.18 L423.13,191.73 L422.63,191.28 L422.13,190.83 L421.63,190.40 L421.14,189.97 L420.64,189.56 L420.15,189.17 L419.66,188.80 L419.17,188.44 L418.67,188.06 L418.17,187.69 L417.68,187.32 L417.18,186.97 L416.69,186.64 L416.21,186.32 L415.72,186.03 L415.25,185.77 L414.78,185.53 L414.31,185.33 L413.83,185.10 L413.34,184.88 L412.86,184.67 L412.38,184.48 L411.90,184.29 L411.42,184.13 L410.95,183.97 L410.48,183.83 L410.02,183.71 L409.55,183.60 L409.07,183.47 L408.58,183.35 L408.10,183.23 L407.62,183.12 L407.14,183.03 L406.67,182.94 L406.21,182.87 L405.74,182.81 L405.29,182.77 L404.84,182.74 L404.35,182.69 L403.85,182.64 L403.36,182.59 L402.88,182.54 L402.40,182.51 L401.92,182.48 L401.46,182.47 L400.99,182.46 L400.54,182.47 L400.09,182.49 L399.60,182.50 L399.10,182.50 L398.60,182.50 L398.10,182.50 L397.60,182.50 L397.10,182.50 L396.60,182.50 L396.10,182.50 L395.60,182.50 L395.10,182.50 L394.60,182.50 L394.10,182.50 L393.60,182.50 L393.10,182.50 L392.60,182.50 L392.10,182.50 L391.60,182.50 L391.10,182.50 L390.60,182.50 L390.10,182.50 L389.60,182.50 L389.10,182.50 L388.60,182.50 L388.10,182.50 L387.60,182.50 L387.10,182.50 L386.60,182.50 Z" fill="#3cc8de"/>
<circle cx="430.18" cy="189.96" r="0.60" fill="#f040f0" opacity="0.85"/>
<circle cx="426.59" cy="185.86" r="0.51" fill="#f040f0" opacity="0.85"/>
<circle cx="426.33" cy="185.68" r="0.41" fill="#f040f0" opacity="0.85"/>
<circle cx="431.84" cy="191.64" r="0.43" fill="#f040f0" opacity="0.85"/>
<circle cx="432.51" cy="190.62" r="0.44" fill="#f040f0" opacity="0.85"/>
<circle cx="429.09" cy="187.94" r="0.68" fill="#f040f0" opacity="0.85"/>
<circle cx="434.48" cy="193.34" r="0.69" fill="#f040f0" opacity="0.85"/>
<circle cx="426.53" cy="185.10" r="0.49" fill="#f040f0" opacity="0.85"/>
<circle cx="427.28" cy="187.39" r="0.49" fill="#f040f0" opacity="0.85"/>
<circle cx="438.06" cy="197.06" r="0.57" fill="#f040f0" opacity="0.85"/>
<circle cx="435.44" cy="194.26" r="0.56" fill="#f040f0" opacity="0.85"/>
<circle cx="425.92" cy="186.28" r="0.46" fill="#f040f0" opacity="0.85"/>
<circle cx="436.16" cy="194.80" r="0.49" fill="#f040f0" opacity="0.85"/>
<circle cx="434.68" cy="193.39" r="0.49" fill="#f040f0" opacity="0.85"/>
<circle cx="438.27" cy="196.13" r="0.47" fill="#f040f0" opacity="0.85"/>
<circle cx="434.58" cy="193.15" r="0.66" fill="#f040f0" opacity="0.85"/>
<circle cx="436.79" cy="195.67" r="0.69" fill="#f040f0" opacity="0.85"/>
<circle cx="427.19" cy="186.66" r="0.63" fill="#f040f0" opacity="0.85"/>
<circle cx="427.81" cy="187.07" r="0.41" fill="#f040f0" opacity="0.85"/>
<circle cx="436.33" cy="194.22" r="0.57" fill="#f040f0" opacity="0.85"/>
<circle cx="439.14" cy="197.76" r="0.61" fill="#f040f0" opacity="0.85"/>
<circle cx="434.95" cy="193.37" r="0.54" fill="#f040f0" opacity="0.85"/>
<circle cx="439.26" cy="196.50" r="0.54" fill="#f040f0" opacity="0.85"/>
<circle cx="435.51" cy="195.00" r="0.61" fill="#f040f0" opacity="0.85"/>
<circle cx="436.24" cy="193.64" r="0.65" fill="#f040f0" opacity="0.85"/>
<circle cx="429.81" cy="189.11" r="0.60" fill="#f040f0" opacity="0.85"/>
<circle cx="425.72" cy="185.22" r="0.45" fill="#f040f0" opacity="0.85"/>
<circle cx="426.79" cy="187.07" r="0.63" fill="#f040f0" opacity="0.85"/>
<circle cx="427.19" cy="187.02" r="0.52" fill="#f040f0" opacity="0.85"/>
<circle cx="438.83" cy="197.97" r="0.53" fill="#f040f0" opacity="0.85"/>
<circle cx="434.56" cy="192.36" r="0.65" fill="#f040f0" opacity="0.85"/>
<circle cx="438.92" cy="197.63" r="0.52" fill="#f040f0" opacity="0.85"/>
<circle cx="431.53" cy="189.60" r="0.69" fill="#f040f0" opacity="0.85"/>
<circle cx="427.45" cy="187.42" r="0.47" fill="#f040f0" opacity="0.85"/>
<line x1="423.1" y1="185.6" x2="440.8" y2="201.7" stroke="#b4d838" stroke-width="1.9" stroke-linecap="round"/>
<line x1="423.1" y1="185.6" x2="440.8" y2="201.7" stroke="#f09a20" stroke-width="1.7" stroke-dasharray="1.1 1.2"/>
<circle cx="423.78" cy="196.45" r="0.58" fill="#f040f0" opacity="0.85"/>
<circle cx="424.77" cy="196.33" r="0.53" fill="#f040f0" opacity="0.85"/>
<circle cx="425.85" cy="198.59" r="0.69" fill="#f040f0" opacity="0.85"/>
<circle cx="431.03" cy="203.36" r="0.59" fill="#f040f0" opacity="0.85"/>
<circle cx="431.31" cy="202.61" r="0.67" fill="#f040f0" opacity="0.85"/>
<circle cx="432.06" cy="205.12" r="0.64" fill="#f040f0" opacity="0.85"/>
<circle cx="426.41" cy="198.74" r="0.43" fill="#f040f0" opacity="0.85"/>
<circle cx="430.63" cy="201.99" r="0.42" fill="#f040f0" opacity="0.85"/>
<circle cx="423.74" cy="195.71" r="0.50" fill="#f040f0" opacity="0.85"/>
<circle cx="421.43" cy="193.17" r="0.45" fill="#f040f0" opacity="0.85"/>
<circle cx="421.81" cy="194.33" r="0.41" fill="#f040f0" opacity="0.85"/>
<circle cx="433.85" cy="206.24" r="0.44" fill="#f040f0" opacity="0.85"/>
<circle cx="424.23" cy="196.58" r="0.51" fill="#f040f0" opacity="0.85"/>
<circle cx="421.62" cy="195.21" r="0.70" fill="#f040f0" opacity="0.85"/>
<circle cx="427.48" cy="199.95" r="0.43" fill="#f040f0" opacity="0.85"/>
<circle cx="421.84" cy="194.32" r="0.48" fill="#f040f0" opacity="0.85"/>
<circle cx="433.62" cy="205.03" r="0.41" fill="#f040f0" opacity="0.85"/>
<circle cx="435.16" cy="207.29" r="0.44" fill="#f040f0" opacity="0.85"/>
<circle cx="429.22" cy="200.58" r="0.56" fill="#f040f0" opacity="0.85"/>
<circle cx="435.23" cy="208.09" r="0.61" fill="#f040f0" opacity="0.85"/>
<circle cx="424.35" cy="196.73" r="0.45" fill="#f040f0" opacity="0.85"/>
<circle cx="432.31" cy="204.60" r="0.63" fill="#f040f0" opacity="0.85"/>
<circle cx="425.60" cy="197.59" r="0.64" fill="#f040f0" opacity="0.85"/>
<circle cx="435.35" cy="208.18" r="0.64" fill="#f040f0" opacity="0.85"/>
<circle cx="432.82" cy="205.54" r="0.47" fill="#f040f0" opacity="0.85"/>
<circle cx="428.45" cy="200.57" r="0.41" fill="#f040f0" opacity="0.85"/>
<circle cx="420.73" cy="193.13" r="0.48" fill="#f040f0" opacity="0.85"/>
<circle cx="430.57" cy="203.90" r="0.53" fill="#f040f0" opacity="0.85"/>
<circle cx="434.43" cy="207.61" r="0.69" fill="#f040f0" opacity="0.85"/>
<circle cx="426.16" cy="198.12" r="0.47" fill="#f040f0" opacity="0.85"/>
<circle cx="423.50" cy="195.57" r="0.59" fill="#f040f0" opacity="0.85"/>
<circle cx="434.01" cy="206.89" r="0.54" fill="#f040f0" opacity="0.85"/>
<circle cx="430.12" cy="203.13" r="0.43" fill="#f040f0" opacity="0.85"/>
<circle cx="430.12" cy="203.37" r="0.63" fill="#f040f0" opacity="0.85"/>
<line x1="420.6" y1="190.6" x2="438.3" y2="207.3" stroke="#b4d838" stroke-width="1.9" stroke-linecap="round"/>
<line x1="420.6" y1="190.6" x2="438.3" y2="207.3" stroke="#f09a20" stroke-width="1.7" stroke-dasharray="1.1 1.2"/>
<circle cx="502.38" cy="230.97" r="0.45" fill="#f040f0" opacity="0.85"/>
<circle cx="502.83" cy="231.70" r="0.64" fill="#f040f0" opacity="0.85"/>
<circle cx="505.72" cy="234.27" r="0.52" fill="#f040f0" opacity="0.85"/>
<circle cx="505.70" cy="233.53" r="0.45" fill="#f040f0" opacity="0.85"/>
<circle cx="492.38" cy="222.32" r="0.67" fill="#f040f0" opacity="0.85"/>
<circle cx="502.89" cy="232.17" r="0.65" fill="#f040f0" opacity="0.85"/>
<circle cx="506.14" cy="234.09" r="0.51" fill="#f040f0" opacity="0.85"/>
<circle cx="498.88" cy="228.45" r="0.40" fill="#f040f0" opacity="0.85"/>
<circle cx="505.99" cy="233.97" r="0.56" fill="#f040f0" opacity="0.85"/>
<circle cx="505.18" cy="233.68" r="0.66" fill="#f040f0" opacity="0.85"/>
<circle cx="503.27" cy="232.38" r="0.48" fill="#f040f0" opacity="0.85"/>
<circle cx="495.05" cy="224.62" r="0.58" fill="#f040f0" opacity="0.85"/>
<circle cx="494.72" cy="223.92" r="0.44" fill="#f040f0" opacity="0.85"/>
<circle cx="504.72" cy="233.43" r="0.54" fill="#f040f0" opacity="0.85"/>
<circle cx="500.27" cy="228.05" r="0.53" fill="#f040f0" opacity="0.85"/>
<circle cx="505.00" cy="233.37" r="0.56" fill="#f040f0" opacity="0.85"/>
<circle cx="498.37" cy="228.22" r="0.53" fill="#f040f0" opacity="0.85"/>
<circle cx="493.09" cy="223.30" r="0.64" fill="#f040f0" opacity="0.85"/>
<circle cx="493.43" cy="222.60" r="0.62" fill="#f040f0" opacity="0.85"/>
<circle cx="499.22" cy="228.34" r="0.56" fill="#f040f0" opacity="0.85"/>
<circle cx="499.70" cy="227.79" r="0.43" fill="#f040f0" opacity="0.85"/>
<circle cx="499.19" cy="228.48" r="0.48" fill="#f040f0" opacity="0.85"/>
<circle cx="502.76" cy="231.25" r="0.57" fill="#f040f0" opacity="0.85"/>
<circle cx="503.01" cy="230.60" r="0.53" fill="#f040f0" opacity="0.85"/>
<circle cx="500.28" cy="228.94" r="0.55" fill="#f040f0" opacity="0.85"/>
<circle cx="501.47" cy="230.17" r="0.56" fill="#f040f0" opacity="0.85"/>
<circle cx="498.68" cy="226.48" r="0.61" fill="#f040f0" opacity="0.85"/>
<circle cx="504.85" cy="232.26" r="0.48" fill="#f040f0" opacity="0.85"/>
<circle cx="499.94" cy="227.66" r="0.65" fill="#f040f0" opacity="0.85"/>
<circle cx="492.50" cy="222.50" r="0.53" fill="#f040f0" opacity="0.85"/>
<circle cx="491.63" cy="221.43" r="0.42" fill="#f040f0" opacity="0.85"/>
<circle cx="501.47" cy="229.44" r="0.67" fill="#f040f0" opacity="0.85"/>
<circle cx="493.42" cy="222.06" r="0.60" fill="#f040f0" opacity="0.85"/>
<circle cx="493.43" cy="221.70" r="0.69" fill="#f040f0" opacity="0.85"/>
<line x1="488.5" y1="220.8" x2="505.7" y2="236.9" stroke="#b4d838" stroke-width="1.9" stroke-linecap="round"/>
<line x1="488.5" y1="220.8" x2="505.7" y2="236.9" stroke="#f09a20" stroke-width="1.7" stroke-dasharray="1.1 1.2"/>
<circle cx="488.22" cy="231.57" r="0.52" fill="#f040f0" opacity="0.85"/>
<circle cx="492.40" cy="235.49" r="0.65" fill="#f040f0" opacity="0.85"/>
<circle cx="487.87" cy="230.11" r="0.55" fill="#f040f0" opacity="0.85"/>
<circle cx="490.92" cy="232.41" r="0.50" fill="#f040f0" opacity="0.85"/>
<circle cx="497.15" cy="237.75" r="0.57" fill="#f040f0" opacity="0.85"/>
<circle cx="492.71" cy="233.67" r="0.50" fill="#f040f0" opacity="0.85"/>
<circle cx="495.07" cy="236.91" r="0.42" fill="#f040f0" opacity="0.85"/>
<circle cx="500.46" cy="242.46" r="0.69" fill="#f040f0" opacity="0.85"/>
<circle cx="487.16" cy="229.09" r="0.41" fill="#f040f0" opacity="0.85"/>
<circle cx="497.77" cy="238.87" r="0.44" fill="#f040f0" opacity="0.85"/>
<circle cx="491.46" cy="234.45" r="0.65" fill="#f040f0" opacity="0.85"/>
<circle cx="489.71" cy="231.18" r="0.68" fill="#f040f0" opacity="0.85"/>
<circle cx="494.02" cy="236.35" r="0.43" fill="#f040f0" opacity="0.85"/>
<circle cx="485.96" cy="228.91" r="0.53" fill="#f040f0" opacity="0.85"/>
<circle cx="485.92" cy="229.42" r="0.59" fill="#f040f0" opacity="0.85"/>
<circle cx="498.33" cy="238.98" r="0.66" fill="#f040f0" opacity="0.85"/>
<circle cx="485.91" cy="229.24" r="0.54" fill="#f040f0" opacity="0.85"/>
<circle cx="490.54" cy="232.83" r="0.68" fill="#f040f0" opacity="0.85"/>
<circle cx="489.87" cy="231.30" r="0.56" fill="#f040f0" opacity="0.85"/>
<circle cx="489.43" cy="230.85" r="0.45" fill="#f040f0" opacity="0.85"/>
<circle cx="486.37" cy="228.23" r="0.49" fill="#f040f0" opacity="0.85"/>
<circle cx="489.78" cy="232.58" r="0.49" fill="#f040f0" opacity="0.85"/>
<circle cx="493.48" cy="234.72" r="0.50" fill="#f040f0" opacity="0.85"/>
<circle cx="485.81" cy="227.82" r="0.40" fill="#f040f0" opacity="0.85"/>
<circle cx="496.74" cy="238.53" r="0.46" fill="#f040f0" opacity="0.85"/>
<circle cx="492.26" cy="235.24" r="0.43" fill="#f040f0" opacity="0.85"/>
<circle cx="498.22" cy="239.64" r="0.55" fill="#f040f0" opacity="0.85"/>
<circle cx="498.51" cy="239.82" r="0.55" fill="#f040f0" opacity="0.85"/>
<circle cx="495.56" cy="238.38" r="0.50" fill="#f040f0" opacity="0.85"/>
<circle cx="498.14" cy="240.15" r="0.59" fill="#f040f0" opacity="0.85"/>
<circle cx="491.79" cy="233.54" r="0.42" fill="#f040f0" opacity="0.85"/>
<circle cx="487.76" cy="229.23" r="0.62" fill="#f040f0" opacity="0.85"/>
<circle cx="489.64" cy="231.16" r="0.43" fill="#f040f0" opacity="0.85"/>
<circle cx="498.10" cy="240.48" r="0.60" fill="#f040f0" opacity="0.85"/>
<line x1="485.8" y1="225.5" x2="503.3" y2="241.6" stroke="#b4d838" stroke-width="1.9" stroke-linecap="round"/>
<line x1="485.8" y1="225.5" x2="503.3" y2="241.6" stroke="#f09a20" stroke-width="1.7" stroke-dasharray="1.1 1.2"/>
<rect x="383.3" y="156.4" width="156.50" height="117.20" fill="none" stroke="#555" stroke-width="1.0"/>
<text x="391.30" y="262.60" font-family="'Liberation Serif', sans-serif" font-size="19.6" font-weight="bold" text-anchor="start" fill="#000" >F</text>
</svg>
</body></html>
